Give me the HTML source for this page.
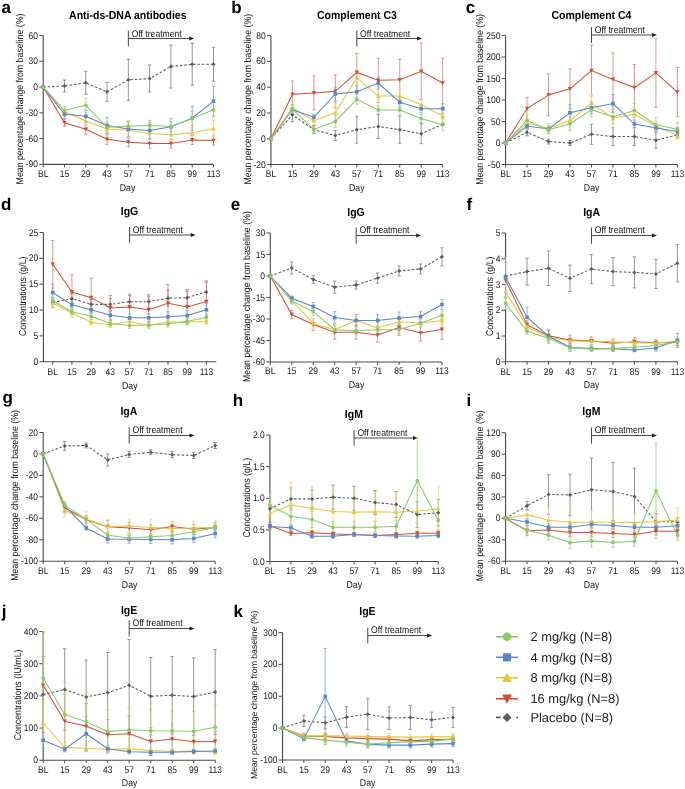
<!DOCTYPE html>
<html><head><meta charset="utf-8"><title>Figure</title>
<style>
html,body{margin:0;padding:0;background:#fff;}
svg{display:block;will-change:transform;}
text{font-family:"Liberation Sans", sans-serif;text-rendering:geometricPrecision;}
</style></head><body>
<svg width="685" height="789" viewBox="0 0 685 789">
<rect width="685" height="789" fill="#fff"/>
<text x="1.5" y="13.2" font-size="17" text-anchor="start" font-weight="bold" fill="#000">a</text>
<text transform="translate(127.8 19) scale(0.9091 1)" font-size="11.55" text-anchor="middle" font-weight="bold" fill="#000">Anti-ds-DNA antibodies</text>
<text font-size="9.94" text-anchor="middle" fill="#151515" transform="translate(22.8 99) rotate(-90) scale(0.8850 1)">Mean percentage change from baseline (%)</text>
<path d="M43.2 35.5V164.95 M42.65 164.4H213.5" stroke="#4a4a4a" stroke-width="1.1" fill="none"/>
<text transform="translate(38 38.55) scale(0.8850 1)" font-size="9.6" text-anchor="end" font-weight="normal" fill="#151515">60</text>
<text transform="translate(38 64.33) scale(0.8850 1)" font-size="9.6" text-anchor="end" font-weight="normal" fill="#151515">30</text>
<text transform="translate(38 90.11) scale(0.8850 1)" font-size="9.6" text-anchor="end" font-weight="normal" fill="#151515">0</text>
<text transform="translate(38 115.89) scale(0.8850 1)" font-size="9.6" text-anchor="end" font-weight="normal" fill="#151515">-30</text>
<text transform="translate(38 141.67) scale(0.8850 1)" font-size="9.6" text-anchor="end" font-weight="normal" fill="#151515">-60</text>
<text transform="translate(38 167.45) scale(0.8850 1)" font-size="9.6" text-anchor="end" font-weight="normal" fill="#151515">-90</text>
<text transform="translate(43.2 177.2) scale(0.8850 1)" font-size="9.6" text-anchor="middle" font-weight="normal" fill="#151515">BL</text>
<text transform="translate(64.49 177.2) scale(0.8850 1)" font-size="9.6" text-anchor="middle" font-weight="normal" fill="#151515">15</text>
<text transform="translate(85.78 177.2) scale(0.8850 1)" font-size="9.6" text-anchor="middle" font-weight="normal" fill="#151515">29</text>
<text transform="translate(107.06 177.2) scale(0.8850 1)" font-size="9.6" text-anchor="middle" font-weight="normal" fill="#151515">43</text>
<text transform="translate(128.35 177.2) scale(0.8850 1)" font-size="9.6" text-anchor="middle" font-weight="normal" fill="#151515">57</text>
<text transform="translate(149.64 177.2) scale(0.8850 1)" font-size="9.6" text-anchor="middle" font-weight="normal" fill="#151515">71</text>
<text transform="translate(170.93 177.2) scale(0.8850 1)" font-size="9.6" text-anchor="middle" font-weight="normal" fill="#151515">85</text>
<text transform="translate(192.21 177.2) scale(0.8850 1)" font-size="9.6" text-anchor="middle" font-weight="normal" fill="#151515">99</text>
<text transform="translate(213.5 177.2) scale(0.8850 1)" font-size="9.6" text-anchor="middle" font-weight="normal" fill="#151515">113</text>
<path d="M39.3 35.5H43.2M39.3 61.28H43.2M39.3 87.06H43.2M39.3 112.84H43.2M39.3 138.62H43.2M39.3 164.4H43.2M43.2 164.4V167.4M64.49 164.4V167.4M85.78 164.4V167.4M107.06 164.4V167.4M128.35 164.4V167.4M149.64 164.4V167.4M170.93 164.4V167.4M192.21 164.4V167.4M213.5 164.4V167.4" stroke="#4a4a4a" stroke-width="1" fill="none"/>
<text transform="translate(127.5 190.8) scale(0.8850 1)" font-size="9.83" text-anchor="middle" font-weight="normal" fill="#151515">Day</text>
<path d="M128.35 30.6V46.5 M128.35 38.5H190.2" stroke="#333" stroke-width="0.9" fill="none"/>
<path d="M194.2 38.5L189.2 36.5L189.2 40.5Z" fill="#222"/>
<text transform="translate(131.65 36.8) scale(0.8850 1)" font-size="9.72" text-anchor="start" font-weight="normal" fill="#151515">Off treatment</text>
<path d="M64.49 80.03V92.03M62.79 80.03H66.19M62.79 92.03H66.19M85.78 71.26V94.26M84.08 71.26H87.48M84.08 94.26H87.48M107.06 82.47V101.27M105.36 82.47H108.76M105.36 101.27H108.76M128.35 59.34V100.34M126.65 59.34H130.05M126.65 100.34H130.05M149.64 64.97V91.97M147.94 64.97H151.34M147.94 91.97H151.34M170.93 45.21V88.01M169.23 45.21H172.62M169.23 88.01H172.62M192.21 43.29V85.29M190.51 43.29H193.91M190.51 85.29H193.91M213.5 47.29V81.29M211.8 47.29H215.2M211.8 81.29H215.2" stroke="#8a8a8a" stroke-width="0.9" fill="none"/>
<path d="M64.49 119.31V126.31M62.79 119.31H66.19M62.79 126.31H66.19M85.78 124.25V134.25M84.08 124.25H87.48M84.08 134.25H87.48M107.06 134.31V144.31M105.36 134.31H108.76M105.36 144.31H108.76M128.35 137.73V146.73M126.65 137.73H130.05M126.65 146.73H130.05M149.64 139.02V148.02M147.94 139.02H151.34M147.94 148.02H151.34M170.93 139.02V148.02M169.23 139.02H172.62M169.23 148.02H172.62M192.21 135.49V144.49M190.51 135.49H193.91M190.51 144.49H193.91M213.5 136.01V145.01M211.8 136.01H215.2M211.8 145.01H215.2" stroke="#de8b7c" stroke-width="0.9" fill="none"/>
<path d="M64.49 106.55V116.55M62.79 106.55H66.19M62.79 116.55H66.19M85.78 115V127M84.08 115H87.48M84.08 127H87.48M107.06 123V135M105.36 123H108.76M105.36 135H108.76M128.35 122.28V138.28M126.65 122.28H130.05M126.65 138.28H130.05M149.64 127.46V139.46M147.94 127.46H151.34M147.94 139.46H151.34M170.93 128.75V140.75M169.23 128.75H172.62M169.23 140.75H172.62M192.21 126.78V138.78M190.51 126.78H193.91M190.51 138.78H193.91M213.5 120.57V136.57M211.8 120.57H215.2M211.8 136.57H215.2" stroke="#ecd878" stroke-width="0.9" fill="none"/>
<path d="M64.49 110.3V118.3M62.79 110.3H66.19M62.79 118.3H66.19M85.78 110.28V122.28M84.08 110.28H87.48M84.08 122.28H87.48M107.06 117.56V133.56M105.36 117.56H108.76M105.36 133.56H108.76M128.35 121V137M126.65 121H130.05M126.65 137H130.05M149.64 122.54V138.54M147.94 122.54H151.34M147.94 138.54H151.34M170.93 118.76V134.76M169.23 118.76H172.62M169.23 134.76H172.62M192.21 106.25V130.25M190.51 106.25H193.91M190.51 130.25H193.91M213.5 86.07V116.07M211.8 86.07H215.2M211.8 116.07H215.2" stroke="#8faad8" stroke-width="0.9" fill="none"/>
<path d="M64.49 106.52V114.52M62.79 106.52H66.19M62.79 114.52H66.19M85.78 98.28V112.28M84.08 98.28H87.48M84.08 112.28H87.48M107.06 122.28V132.28M105.36 122.28H108.76M105.36 132.28H108.76M128.35 121.25V131.25M126.65 121.25H130.05M126.65 131.25H130.05M149.64 120.3V130.3M147.94 120.3H151.34M147.94 130.3H151.34M170.93 121.5V131.5M169.23 121.5H172.62M169.23 131.5H172.62M192.21 111.51V125.51M190.51 111.51H193.91M190.51 125.51H193.91M213.5 102.83V116.83M211.8 102.83H215.2M211.8 116.83H215.2" stroke="#a9d68b" stroke-width="0.9" fill="none"/>
<polyline points="43.2,87.06 64.49,86.03 85.78,82.76 107.06,91.87 128.35,79.84 149.64,78.47 170.93,66.61 192.21,64.29 213.5,64.29" stroke="#5a5a5a" stroke-width="1.05" fill="none" stroke-dasharray="2.6 1.8"/>
<path d="M43.2 85.06L45.2 87.06L43.2 89.06L41.2 87.06Z" fill="#5a5a5a"/>
<path d="M64.49 84.03L66.49 86.03L64.49 88.03L62.49 86.03Z" fill="#5a5a5a"/>
<path d="M85.78 80.76L87.78 82.76L85.78 84.76L83.78 82.76Z" fill="#5a5a5a"/>
<path d="M107.06 89.87L109.06 91.87L107.06 93.87L105.06 91.87Z" fill="#5a5a5a"/>
<path d="M128.35 77.84L130.35 79.84L128.35 81.84L126.35 79.84Z" fill="#5a5a5a"/>
<path d="M149.64 76.47L151.64 78.47L149.64 80.47L147.64 78.47Z" fill="#5a5a5a"/>
<path d="M170.93 64.61L172.93 66.61L170.93 68.61L168.93 66.61Z" fill="#5a5a5a"/>
<path d="M192.21 62.29L194.21 64.29L192.21 66.29L190.21 64.29Z" fill="#5a5a5a"/>
<path d="M213.5 62.29L215.5 64.29L213.5 66.29L211.5 64.29Z" fill="#5a5a5a"/>
<polyline points="43.2,87.06 64.49,122.81 85.78,129.25 107.06,139.31 128.35,142.23 149.64,143.52 170.93,143.52 192.21,139.99 213.5,140.51" stroke="#cf4e38" stroke-width="1.05" fill="none"/>
<path d="M43.2 89.26L45.4 85.19L41 85.19Z" fill="#cf4e38"/>
<path d="M64.49 125.01L66.69 120.94L62.29 120.94Z" fill="#cf4e38"/>
<path d="M85.78 131.45L87.98 127.38L83.58 127.38Z" fill="#cf4e38"/>
<path d="M107.06 141.51L109.26 137.44L104.86 137.44Z" fill="#cf4e38"/>
<path d="M128.35 144.43L130.55 140.36L126.15 140.36Z" fill="#cf4e38"/>
<path d="M149.64 145.72L151.84 141.65L147.44 141.65Z" fill="#cf4e38"/>
<path d="M170.93 145.72L173.12 141.65L168.73 141.65Z" fill="#cf4e38"/>
<path d="M192.21 142.19L194.41 138.12L190.01 138.12Z" fill="#cf4e38"/>
<path d="M213.5 142.71L215.7 138.64L211.3 138.64Z" fill="#cf4e38"/>
<polyline points="43.2,87.06 64.49,111.55 85.78,121 107.06,129 128.35,130.28 149.64,133.46 170.93,134.75 192.21,132.78 213.5,128.57" stroke="#e2c83a" stroke-width="1.05" fill="none"/>
<path d="M43.2 84.86L45.4 88.93L41 88.93Z" fill="#e2c83a"/>
<path d="M64.49 109.35L66.69 113.42L62.29 113.42Z" fill="#e2c83a"/>
<path d="M85.78 118.8L87.98 122.87L83.58 122.87Z" fill="#e2c83a"/>
<path d="M107.06 126.8L109.26 130.87L104.86 130.87Z" fill="#e2c83a"/>
<path d="M128.35 128.08L130.55 132.15L126.15 132.15Z" fill="#e2c83a"/>
<path d="M149.64 131.26L151.84 135.33L147.44 135.33Z" fill="#e2c83a"/>
<path d="M170.93 132.55L173.12 136.62L168.73 136.62Z" fill="#e2c83a"/>
<path d="M192.21 130.58L194.41 134.65L190.01 134.65Z" fill="#e2c83a"/>
<path d="M213.5 126.37L215.7 130.44L211.3 130.44Z" fill="#e2c83a"/>
<polyline points="43.2,87.06 64.49,114.3 85.78,116.28 107.06,125.56 128.35,129 149.64,130.54 170.93,126.76 192.21,118.25 213.5,101.07" stroke="#5a86c8" stroke-width="1.05" fill="none"/>
<rect x="41.4" y="85.26" width="3.6" height="3.6" fill="#5a86c8"/>
<rect x="62.69" y="112.5" width="3.6" height="3.6" fill="#5a86c8"/>
<rect x="83.98" y="114.48" width="3.6" height="3.6" fill="#5a86c8"/>
<rect x="105.26" y="123.76" width="3.6" height="3.6" fill="#5a86c8"/>
<rect x="126.55" y="127.2" width="3.6" height="3.6" fill="#5a86c8"/>
<rect x="147.84" y="128.74" width="3.6" height="3.6" fill="#5a86c8"/>
<rect x="169.12" y="124.96" width="3.6" height="3.6" fill="#5a86c8"/>
<rect x="190.41" y="116.45" width="3.6" height="3.6" fill="#5a86c8"/>
<rect x="211.7" y="99.27" width="3.6" height="3.6" fill="#5a86c8"/>
<polyline points="43.2,87.06 64.49,110.52 85.78,105.28 107.06,127.28 128.35,126.25 149.64,125.3 170.93,126.5 192.21,118.51 213.5,109.83" stroke="#8cc865" stroke-width="1.05" fill="none"/>
<circle cx="43.2" cy="87.06" r="1.9" fill="#8cc865"/>
<circle cx="64.49" cy="110.52" r="1.9" fill="#8cc865"/>
<circle cx="85.78" cy="105.28" r="1.9" fill="#8cc865"/>
<circle cx="107.06" cy="127.28" r="1.9" fill="#8cc865"/>
<circle cx="128.35" cy="126.25" r="1.9" fill="#8cc865"/>
<circle cx="149.64" cy="125.3" r="1.9" fill="#8cc865"/>
<circle cx="170.93" cy="126.5" r="1.9" fill="#8cc865"/>
<circle cx="192.21" cy="118.51" r="1.9" fill="#8cc865"/>
<circle cx="213.5" cy="109.83" r="1.9" fill="#8cc865"/>
<text x="231.2" y="13.2" font-size="17" text-anchor="start" font-weight="bold" fill="#000">b</text>
<text transform="translate(357 18.6) scale(0.9091 1)" font-size="11.55" text-anchor="middle" font-weight="bold" fill="#000">Complement C3</text>
<text font-size="9.94" text-anchor="middle" fill="#151515" transform="translate(251.2 99.2) rotate(-90) scale(0.8850 1)">Mean percentage change from baseline (%)</text>
<path d="M270.95 35.6V165.05 M270.4 164.5H442.7" stroke="#4a4a4a" stroke-width="1.1" fill="none"/>
<text transform="translate(265.75 38.65) scale(0.8850 1)" font-size="9.6" text-anchor="end" font-weight="normal" fill="#151515">80</text>
<text transform="translate(265.75 64.43) scale(0.8850 1)" font-size="9.6" text-anchor="end" font-weight="normal" fill="#151515">60</text>
<text transform="translate(265.75 90.21) scale(0.8850 1)" font-size="9.6" text-anchor="end" font-weight="normal" fill="#151515">40</text>
<text transform="translate(265.75 115.99) scale(0.8850 1)" font-size="9.6" text-anchor="end" font-weight="normal" fill="#151515">20</text>
<text transform="translate(265.75 141.77) scale(0.8850 1)" font-size="9.6" text-anchor="end" font-weight="normal" fill="#151515">0</text>
<text transform="translate(265.75 167.55) scale(0.8850 1)" font-size="9.6" text-anchor="end" font-weight="normal" fill="#151515">-20</text>
<text transform="translate(270.95 177.2) scale(0.8850 1)" font-size="9.6" text-anchor="middle" font-weight="normal" fill="#151515">BL</text>
<text transform="translate(292.42 177.2) scale(0.8850 1)" font-size="9.6" text-anchor="middle" font-weight="normal" fill="#151515">15</text>
<text transform="translate(313.89 177.2) scale(0.8850 1)" font-size="9.6" text-anchor="middle" font-weight="normal" fill="#151515">29</text>
<text transform="translate(335.36 177.2) scale(0.8850 1)" font-size="9.6" text-anchor="middle" font-weight="normal" fill="#151515">43</text>
<text transform="translate(356.82 177.2) scale(0.8850 1)" font-size="9.6" text-anchor="middle" font-weight="normal" fill="#151515">57</text>
<text transform="translate(378.29 177.2) scale(0.8850 1)" font-size="9.6" text-anchor="middle" font-weight="normal" fill="#151515">71</text>
<text transform="translate(399.76 177.2) scale(0.8850 1)" font-size="9.6" text-anchor="middle" font-weight="normal" fill="#151515">85</text>
<text transform="translate(421.23 177.2) scale(0.8850 1)" font-size="9.6" text-anchor="middle" font-weight="normal" fill="#151515">99</text>
<text transform="translate(442.7 177.2) scale(0.8850 1)" font-size="9.6" text-anchor="middle" font-weight="normal" fill="#151515">113</text>
<path d="M267.05 35.6H270.95M267.05 61.38H270.95M267.05 87.16H270.95M267.05 112.94H270.95M267.05 138.72H270.95M267.05 164.5H270.95M270.95 164.5V167.5M292.42 164.5V167.5M313.89 164.5V167.5M335.36 164.5V167.5M356.82 164.5V167.5M378.29 164.5V167.5M399.76 164.5V167.5M421.23 164.5V167.5M442.7 164.5V167.5" stroke="#4a4a4a" stroke-width="1" fill="none"/>
<text transform="translate(356.75 190.8) scale(0.8850 1)" font-size="9.83" text-anchor="middle" font-weight="normal" fill="#151515">Day</text>
<path d="M356.82 30.6V46.5 M356.82 38.5H418" stroke="#333" stroke-width="0.9" fill="none"/>
<path d="M422 38.5L417 36.5L417 40.5Z" fill="#222"/>
<text transform="translate(360.12 36.8) scale(0.8850 1)" font-size="9.72" text-anchor="start" font-weight="normal" fill="#151515">Off treatment</text>
<path d="M292.42 107.74V121.74M290.72 107.74H294.12M290.72 121.74H294.12M313.89 125.7V133.7M312.19 125.7H315.59M312.19 133.7H315.59M335.36 130.5V140.5M333.66 130.5H337.06M333.66 140.5H337.06M356.82 116.2V143.2M355.12 116.2H358.52M355.12 143.2H358.52M378.29 114.47V138.47M376.59 114.47H379.99M376.59 138.47H379.99M399.76 116.2V143.2M398.06 116.2H401.46M398.06 143.2H401.46M421.23 123.69V143.69M419.53 123.69H422.93M419.53 143.69H422.93" stroke="#8a8a8a" stroke-width="0.9" fill="none"/>
<path d="M292.42 81V107.5M290.72 81H294.12M290.72 107.5H294.12M313.89 75.96V109.96M312.19 75.96H315.59M312.19 109.96H315.59M335.36 74.78V107.78M333.66 74.78H337.06M333.66 107.78H337.06M356.82 53.47V91.47M355.12 53.47H358.52M355.12 91.47H358.52M378.29 58.33V102.33M376.59 58.33H379.99M376.59 102.33H379.99M399.76 59.31V100.31M398.06 59.31H401.46M398.06 100.31H401.46M421.23 43.06V99.56M419.53 43.06H422.93M419.53 99.56H422.93M442.7 58.29V107.79M441 58.29H444.4M441 107.79H444.4" stroke="#de8b7c" stroke-width="0.9" fill="none"/>
<path d="M292.42 103.04V113.04M290.72 103.04H294.12M290.72 113.04H294.12M313.89 116.67V124.67M312.19 116.67H315.59M312.19 124.67H315.59M335.36 103.68V121.68M333.66 103.68H337.06M333.66 121.68H337.06M356.82 70.75V84.75M355.12 70.75H358.52M355.12 84.75H358.52M378.29 86.05V106.05M376.59 86.05H379.99M376.59 106.05H379.99M399.76 89.05V103.05M398.06 89.05H401.46M398.06 103.05H401.46M421.23 98.69V110.69M419.53 98.69H422.93M419.53 110.69H422.93M442.7 110.03V122.03M441 110.03H444.4M441 122.03H444.4" stroke="#ecd878" stroke-width="0.9" fill="none"/>
<path d="M292.42 104.72V114.72M290.72 104.72H294.12M290.72 114.72H294.12M313.89 114.19V120.19M312.19 114.19H315.59M312.19 120.19H315.59M335.36 86.99V100.99M333.66 86.99H337.06M333.66 100.99H337.06M356.82 85.8V97.8M355.12 85.8H358.52M355.12 97.8H358.52M378.29 77.04V89.04M376.59 77.04H379.99M376.59 89.04H379.99M399.76 97.24V107.24M398.06 97.24H401.46M398.06 107.24H401.46M421.23 104.69V112.69M419.53 104.69H422.93M419.53 112.69H422.93M442.7 103.69V113.69M441 103.69H444.4M441 113.69H444.4" stroke="#8faad8" stroke-width="0.9" fill="none"/>
<path d="M292.42 105.2V113.2M290.72 105.2H294.12M290.72 113.2H294.12M313.89 126.44V132.44M312.19 126.44H315.59M312.19 132.44H315.59M335.36 115.45V127.45M333.66 115.45H337.06M333.66 127.45H337.06M356.82 94.28V104.28M355.12 94.28H358.52M355.12 104.28H358.52M378.29 105.98V113.98M376.59 105.98H379.99M376.59 113.98H379.99M399.76 104.98V114.98M398.06 104.98H401.46M398.06 114.98H401.46M421.23 114.48V122.48M419.53 114.48H422.93M419.53 122.48H422.93M442.7 118.67V130.67M441 118.67H444.4M441 130.67H444.4" stroke="#a9d68b" stroke-width="0.9" fill="none"/>
<polyline points="270.95,138.72 292.42,114.74 313.89,129.7 335.36,135.5 356.82,129.7 378.29,126.47 399.76,129.7 421.23,133.69 442.7,124.28" stroke="#5a5a5a" stroke-width="1.05" fill="none" stroke-dasharray="2.6 1.8"/>
<path d="M270.95 136.72L272.95 138.72L270.95 140.72L268.95 138.72Z" fill="#5a5a5a"/>
<path d="M292.42 112.74L294.42 114.74L292.42 116.74L290.42 114.74Z" fill="#5a5a5a"/>
<path d="M313.89 127.7L315.89 129.7L313.89 131.7L311.89 129.7Z" fill="#5a5a5a"/>
<path d="M335.36 133.5L337.36 135.5L335.36 137.5L333.36 135.5Z" fill="#5a5a5a"/>
<path d="M356.82 127.7L358.82 129.7L356.82 131.7L354.82 129.7Z" fill="#5a5a5a"/>
<path d="M378.29 124.47L380.29 126.47L378.29 128.47L376.29 126.47Z" fill="#5a5a5a"/>
<path d="M399.76 127.7L401.76 129.7L399.76 131.7L397.76 129.7Z" fill="#5a5a5a"/>
<path d="M421.23 131.69L423.23 133.69L421.23 135.69L419.23 133.69Z" fill="#5a5a5a"/>
<path d="M442.7 122.28L444.7 124.28L442.7 126.28L440.7 124.28Z" fill="#5a5a5a"/>
<polyline points="270.95,138.72 292.42,94.25 313.89,92.96 335.36,91.28 356.82,72.47 378.29,80.33 399.76,79.81 421.23,71.31 442.7,83.04" stroke="#cf4e38" stroke-width="1.05" fill="none"/>
<path d="M270.95 140.92L273.15 136.85L268.75 136.85Z" fill="#cf4e38"/>
<path d="M292.42 96.45L294.62 92.38L290.22 92.38Z" fill="#cf4e38"/>
<path d="M313.89 95.16L316.09 91.09L311.69 91.09Z" fill="#cf4e38"/>
<path d="M335.36 93.48L337.56 89.41L333.16 89.41Z" fill="#cf4e38"/>
<path d="M356.82 74.67L359.02 70.6L354.62 70.6Z" fill="#cf4e38"/>
<path d="M378.29 82.53L380.49 78.46L376.09 78.46Z" fill="#cf4e38"/>
<path d="M399.76 82.01L401.96 77.94L397.56 77.94Z" fill="#cf4e38"/>
<path d="M421.23 73.51L423.43 69.44L419.03 69.44Z" fill="#cf4e38"/>
<path d="M442.7 85.24L444.9 81.17L440.5 81.17Z" fill="#cf4e38"/>
<polyline points="270.95,138.72 292.42,108.04 313.89,120.67 335.36,112.68 356.82,77.75 378.29,96.05 399.76,96.05 421.23,104.69 442.7,116.03" stroke="#e2c83a" stroke-width="1.05" fill="none"/>
<path d="M270.95 136.52L273.15 140.59L268.75 140.59Z" fill="#e2c83a"/>
<path d="M292.42 105.84L294.62 109.91L290.22 109.91Z" fill="#e2c83a"/>
<path d="M313.89 118.47L316.09 122.54L311.69 122.54Z" fill="#e2c83a"/>
<path d="M335.36 110.48L337.56 114.55L333.16 114.55Z" fill="#e2c83a"/>
<path d="M356.82 75.55L359.02 79.62L354.62 79.62Z" fill="#e2c83a"/>
<path d="M378.29 93.85L380.49 97.92L376.09 97.92Z" fill="#e2c83a"/>
<path d="M399.76 93.85L401.96 97.92L397.56 97.92Z" fill="#e2c83a"/>
<path d="M421.23 102.49L423.43 106.56L419.03 106.56Z" fill="#e2c83a"/>
<path d="M442.7 113.83L444.9 117.9L440.5 117.9Z" fill="#e2c83a"/>
<polyline points="270.95,138.72 292.42,109.72 313.89,117.19 335.36,93.99 356.82,91.8 378.29,83.04 399.76,102.24 421.23,108.69 442.7,108.69" stroke="#5a86c8" stroke-width="1.05" fill="none"/>
<rect x="269.15" y="136.92" width="3.6" height="3.6" fill="#5a86c8"/>
<rect x="290.62" y="107.92" width="3.6" height="3.6" fill="#5a86c8"/>
<rect x="312.09" y="115.39" width="3.6" height="3.6" fill="#5a86c8"/>
<rect x="333.56" y="92.19" width="3.6" height="3.6" fill="#5a86c8"/>
<rect x="355.02" y="90" width="3.6" height="3.6" fill="#5a86c8"/>
<rect x="376.49" y="81.24" width="3.6" height="3.6" fill="#5a86c8"/>
<rect x="397.96" y="100.44" width="3.6" height="3.6" fill="#5a86c8"/>
<rect x="419.43" y="106.89" width="3.6" height="3.6" fill="#5a86c8"/>
<rect x="440.9" y="106.89" width="3.6" height="3.6" fill="#5a86c8"/>
<polyline points="270.95,138.72 292.42,109.2 313.89,129.44 335.36,121.45 356.82,99.28 378.29,109.98 399.76,109.98 421.23,118.48 442.7,124.67" stroke="#8cc865" stroke-width="1.05" fill="none"/>
<circle cx="270.95" cy="138.72" r="1.9" fill="#8cc865"/>
<circle cx="292.42" cy="109.2" r="1.9" fill="#8cc865"/>
<circle cx="313.89" cy="129.44" r="1.9" fill="#8cc865"/>
<circle cx="335.36" cy="121.45" r="1.9" fill="#8cc865"/>
<circle cx="356.82" cy="99.28" r="1.9" fill="#8cc865"/>
<circle cx="378.29" cy="109.98" r="1.9" fill="#8cc865"/>
<circle cx="399.76" cy="109.98" r="1.9" fill="#8cc865"/>
<circle cx="421.23" cy="118.48" r="1.9" fill="#8cc865"/>
<circle cx="442.7" cy="124.67" r="1.9" fill="#8cc865"/>
<text x="465.8" y="12.7" font-size="17" text-anchor="start" font-weight="bold" fill="#000">c</text>
<text transform="translate(591.5 18.7) scale(0.9091 1)" font-size="11.55" text-anchor="middle" font-weight="bold" fill="#000">Complement C4</text>
<text font-size="9.94" text-anchor="middle" fill="#151515" transform="translate(483.2 99.45) rotate(-90) scale(0.8850 1)">Mean percentage change from baseline (%)</text>
<path d="M505.56 35.6V165.05 M505.01 164.5H677.4" stroke="#4a4a4a" stroke-width="1.1" fill="none"/>
<text transform="translate(500.36 38.65) scale(0.8850 1)" font-size="9.6" text-anchor="end" font-weight="normal" fill="#151515">250</text>
<text transform="translate(500.36 60.13) scale(0.8850 1)" font-size="9.6" text-anchor="end" font-weight="normal" fill="#151515">200</text>
<text transform="translate(500.36 81.62) scale(0.8850 1)" font-size="9.6" text-anchor="end" font-weight="normal" fill="#151515">150</text>
<text transform="translate(500.36 103.1) scale(0.8850 1)" font-size="9.6" text-anchor="end" font-weight="normal" fill="#151515">100</text>
<text transform="translate(500.36 124.58) scale(0.8850 1)" font-size="9.6" text-anchor="end" font-weight="normal" fill="#151515">50</text>
<text transform="translate(500.36 146.07) scale(0.8850 1)" font-size="9.6" text-anchor="end" font-weight="normal" fill="#151515">0</text>
<text transform="translate(500.36 167.55) scale(0.8850 1)" font-size="9.6" text-anchor="end" font-weight="normal" fill="#151515">-50</text>
<text transform="translate(505.56 177.2) scale(0.8850 1)" font-size="9.6" text-anchor="middle" font-weight="normal" fill="#151515">BL</text>
<text transform="translate(527.04 177.2) scale(0.8850 1)" font-size="9.6" text-anchor="middle" font-weight="normal" fill="#151515">15</text>
<text transform="translate(548.52 177.2) scale(0.8850 1)" font-size="9.6" text-anchor="middle" font-weight="normal" fill="#151515">29</text>
<text transform="translate(570 177.2) scale(0.8850 1)" font-size="9.6" text-anchor="middle" font-weight="normal" fill="#151515">43</text>
<text transform="translate(591.48 177.2) scale(0.8850 1)" font-size="9.6" text-anchor="middle" font-weight="normal" fill="#151515">57</text>
<text transform="translate(612.96 177.2) scale(0.8850 1)" font-size="9.6" text-anchor="middle" font-weight="normal" fill="#151515">71</text>
<text transform="translate(634.44 177.2) scale(0.8850 1)" font-size="9.6" text-anchor="middle" font-weight="normal" fill="#151515">85</text>
<text transform="translate(655.92 177.2) scale(0.8850 1)" font-size="9.6" text-anchor="middle" font-weight="normal" fill="#151515">99</text>
<text transform="translate(677.4 177.2) scale(0.8850 1)" font-size="9.6" text-anchor="middle" font-weight="normal" fill="#151515">113</text>
<path d="M501.66 35.6H505.56M501.66 57.08H505.56M501.66 78.57H505.56M501.66 100.05H505.56M501.66 121.53H505.56M501.66 143.02H505.56M501.66 164.5H505.56M505.56 164.5V167.5M527.04 164.5V167.5M548.52 164.5V167.5M570 164.5V167.5M591.48 164.5V167.5M612.96 164.5V167.5M634.44 164.5V167.5M655.92 164.5V167.5M677.4 164.5V167.5" stroke="#4a4a4a" stroke-width="1" fill="none"/>
<text transform="translate(591.6 190.8) scale(0.8850 1)" font-size="9.83" text-anchor="middle" font-weight="normal" fill="#151515">Day</text>
<path d="M591.48 27V43 M591.48 35H653" stroke="#333" stroke-width="0.9" fill="none"/>
<path d="M657 35L652 33L652 37Z" fill="#222"/>
<text transform="translate(594.78 33) scale(0.8850 1)" font-size="9.72" text-anchor="start" font-weight="normal" fill="#151515">Off treatment</text>
<path d="M527.04 128.78V135.78M525.34 128.78H528.74M525.34 135.78H528.74M548.52 139.01V144.01M546.82 139.01H550.22M546.82 144.01H550.22M570 140.52V145.52M568.3 140.52H571.7M568.3 145.52H571.7M591.48 124.29V144.29M589.78 124.29H593.18M589.78 144.29H593.18M612.96 127.53V145.53M611.26 127.53H614.66M611.26 145.53H614.66M634.44 127.53V145.53M632.74 127.53H636.14M632.74 145.53H636.14M655.92 132.27V148.27M654.22 132.27H657.62M654.22 148.27H657.62M677.4 131.77V137.77M675.7 131.77H679.1M675.7 137.77H679.1" stroke="#8a8a8a" stroke-width="0.9" fill="none"/>
<path d="M527.04 97.31V119.81M525.34 97.31H528.74M525.34 119.81H528.74M548.52 73.89V115.89M546.82 73.89H550.22M546.82 115.89H550.22M570 68.88V108.88M568.3 68.88H571.7M568.3 108.88H571.7M591.48 45.07V96.07M589.78 45.07H593.18M589.78 96.07H593.18M612.96 52.93V105.93M611.26 52.93H614.66M611.26 105.93H614.66M634.44 64.59V110.59M632.74 64.59H636.14M632.74 110.59H636.14M655.92 38.21V107.41M654.22 38.21H657.62M654.22 107.41H657.62M677.4 67.46V116.66M675.7 67.46H679.1M675.7 116.66H679.1" stroke="#de8b7c" stroke-width="0.9" fill="none"/>
<path d="M527.04 117.04V129.04M525.34 117.04H528.74M525.34 129.04H528.74M548.52 123.54V133.54M546.82 123.54H550.22M546.82 133.54H550.22M570 111.55V129.55M568.3 111.55H571.7M568.3 129.55H571.7M591.48 94.06V112.06M589.78 94.06H593.18M589.78 112.06H593.18M612.96 109.27V127.27M611.26 109.27H614.66M611.26 127.27H614.66M634.44 107.27V121.27M632.74 107.27H636.14M632.74 121.27H636.14M655.92 121.04V131.04M654.22 121.04H657.62M654.22 131.04H657.62M677.4 131.54V139.54M675.7 131.54H679.1M675.7 139.54H679.1" stroke="#ecd878" stroke-width="0.9" fill="none"/>
<path d="M527.04 123.04V129.04M525.34 123.04H528.74M525.34 129.04H528.74M548.52 126.01V132.01M546.82 126.01H550.22M546.82 132.01H550.22M570 104.77V120.77M568.3 104.77H571.7M568.3 120.77H571.7M591.48 101.78V113.78M589.78 101.78H593.18M589.78 113.78H593.18M612.96 94.53V112.53M611.26 94.53H614.66M611.26 112.53H614.66M634.44 120.03V128.03M632.74 120.03H636.14M632.74 128.03H636.14M655.92 125.02V131.02M654.22 125.02H657.62M654.22 131.02H657.62M677.4 127.54V135.54M675.7 127.54H679.1M675.7 135.54H679.1" stroke="#8faad8" stroke-width="0.9" fill="none"/>
<path d="M527.04 114.29V126.29M525.34 114.29H528.74M525.34 126.29H528.74M548.52 125.78V133.78M546.82 125.78H550.22M546.82 133.78H550.22M570 116.77V130.77M568.3 116.77H571.7M568.3 130.77H571.7M591.48 102.8V116.8M589.78 102.8H593.18M589.78 116.8H593.18M612.96 109.81V123.81M611.26 109.81H614.66M611.26 123.81H614.66M634.44 103.53V117.53M632.74 103.53H636.14M632.74 117.53H636.14M655.92 117.8V131.8M654.22 117.8H657.62M654.22 131.8H657.62M677.4 122.27V136.27M675.7 122.27H679.1M675.7 136.27H679.1" stroke="#a9d68b" stroke-width="0.9" fill="none"/>
<polyline points="505.56,143.02 527.04,132.28 548.52,141.51 570,143.02 591.48,134.29 612.96,136.53 634.44,136.53 655.92,140.27 677.4,134.77" stroke="#5a5a5a" stroke-width="1.05" fill="none" stroke-dasharray="2.6 1.8"/>
<path d="M505.56 141.02L507.56 143.02L505.56 145.02L503.56 143.02Z" fill="#5a5a5a"/>
<path d="M527.04 130.28L529.04 132.28L527.04 134.28L525.04 132.28Z" fill="#5a5a5a"/>
<path d="M548.52 139.51L550.52 141.51L548.52 143.51L546.52 141.51Z" fill="#5a5a5a"/>
<path d="M570 141.02L572 143.02L570 145.02L568 143.02Z" fill="#5a5a5a"/>
<path d="M591.48 132.29L593.48 134.29L591.48 136.29L589.48 134.29Z" fill="#5a5a5a"/>
<path d="M612.96 134.53L614.96 136.53L612.96 138.53L610.96 136.53Z" fill="#5a5a5a"/>
<path d="M634.44 134.53L636.44 136.53L634.44 138.53L632.44 136.53Z" fill="#5a5a5a"/>
<path d="M655.92 138.27L657.92 140.27L655.92 142.27L653.92 140.27Z" fill="#5a5a5a"/>
<path d="M677.4 132.77L679.4 134.77L677.4 136.77L675.4 134.77Z" fill="#5a5a5a"/>
<polyline points="505.56,143.02 527.04,108.56 548.52,94.89 570,88.88 591.48,70.57 612.96,79.43 634.44,87.59 655.92,72.81 677.4,92.06" stroke="#cf4e38" stroke-width="1.05" fill="none"/>
<path d="M505.56 145.22L507.76 141.15L503.36 141.15Z" fill="#cf4e38"/>
<path d="M527.04 110.76L529.24 106.69L524.84 106.69Z" fill="#cf4e38"/>
<path d="M548.52 97.09L550.72 93.02L546.32 93.02Z" fill="#cf4e38"/>
<path d="M570 91.08L572.2 87.01L567.8 87.01Z" fill="#cf4e38"/>
<path d="M591.48 72.77L593.68 68.7L589.28 68.7Z" fill="#cf4e38"/>
<path d="M612.96 81.63L615.16 77.56L610.76 77.56Z" fill="#cf4e38"/>
<path d="M634.44 89.79L636.64 85.72L632.24 85.72Z" fill="#cf4e38"/>
<path d="M655.92 75.01L658.12 70.94L653.72 70.94Z" fill="#cf4e38"/>
<path d="M677.4 94.26L679.6 90.19L675.2 90.19Z" fill="#cf4e38"/>
<polyline points="505.56,143.02 527.04,123.04 548.52,128.54 570,120.55 591.48,103.06 612.96,118.27 634.44,114.27 655.92,126.04 677.4,135.54" stroke="#e2c83a" stroke-width="1.05" fill="none"/>
<path d="M505.56 140.82L507.76 144.89L503.36 144.89Z" fill="#e2c83a"/>
<path d="M527.04 120.84L529.24 124.91L524.84 124.91Z" fill="#e2c83a"/>
<path d="M548.52 126.34L550.72 130.41L546.32 130.41Z" fill="#e2c83a"/>
<path d="M570 118.35L572.2 122.42L567.8 122.42Z" fill="#e2c83a"/>
<path d="M591.48 100.86L593.68 104.93L589.28 104.93Z" fill="#e2c83a"/>
<path d="M612.96 116.07L615.16 120.14L610.76 120.14Z" fill="#e2c83a"/>
<path d="M634.44 112.07L636.64 116.14L632.24 116.14Z" fill="#e2c83a"/>
<path d="M655.92 123.84L658.12 127.91L653.72 127.91Z" fill="#e2c83a"/>
<path d="M677.4 133.34L679.6 137.41L675.2 137.41Z" fill="#e2c83a"/>
<polyline points="505.56,143.02 527.04,126.04 548.52,129.01 570,112.77 591.48,107.78 612.96,103.53 634.44,124.03 655.92,128.02 677.4,131.54" stroke="#5a86c8" stroke-width="1.05" fill="none"/>
<rect x="503.76" y="141.22" width="3.6" height="3.6" fill="#5a86c8"/>
<rect x="525.24" y="124.24" width="3.6" height="3.6" fill="#5a86c8"/>
<rect x="546.72" y="127.21" width="3.6" height="3.6" fill="#5a86c8"/>
<rect x="568.2" y="110.97" width="3.6" height="3.6" fill="#5a86c8"/>
<rect x="589.68" y="105.98" width="3.6" height="3.6" fill="#5a86c8"/>
<rect x="611.16" y="101.73" width="3.6" height="3.6" fill="#5a86c8"/>
<rect x="632.64" y="122.23" width="3.6" height="3.6" fill="#5a86c8"/>
<rect x="654.12" y="126.22" width="3.6" height="3.6" fill="#5a86c8"/>
<rect x="675.6" y="129.74" width="3.6" height="3.6" fill="#5a86c8"/>
<polyline points="505.56,143.02 527.04,120.29 548.52,129.78 570,123.77 591.48,109.8 612.96,116.81 634.44,110.53 655.92,124.8 677.4,129.27" stroke="#8cc865" stroke-width="1.05" fill="none"/>
<circle cx="505.56" cy="143.02" r="1.9" fill="#8cc865"/>
<circle cx="527.04" cy="120.29" r="1.9" fill="#8cc865"/>
<circle cx="548.52" cy="129.78" r="1.9" fill="#8cc865"/>
<circle cx="570" cy="123.77" r="1.9" fill="#8cc865"/>
<circle cx="591.48" cy="109.8" r="1.9" fill="#8cc865"/>
<circle cx="612.96" cy="116.81" r="1.9" fill="#8cc865"/>
<circle cx="634.44" cy="110.53" r="1.9" fill="#8cc865"/>
<circle cx="655.92" cy="124.8" r="1.9" fill="#8cc865"/>
<circle cx="677.4" cy="129.27" r="1.9" fill="#8cc865"/>
<text x="1" y="210" font-size="17" text-anchor="start" font-weight="bold" fill="#000">d</text>
<text transform="translate(129.5 214.9) scale(0.9091 1)" font-size="11.55" text-anchor="middle" font-weight="bold" fill="#000">IgG</text>
<text font-size="9.94" text-anchor="middle" fill="#151515" transform="translate(25.7 296.3) rotate(-90) scale(0.8850 1)">Concentrations (g/L)</text>
<path d="M43.4 232.5V362.3 M42.85 361.75H216.3" stroke="#4a4a4a" stroke-width="1.1" fill="none"/>
<text transform="translate(38.2 235.55) scale(0.8850 1)" font-size="9.6" text-anchor="end" font-weight="normal" fill="#151515">25</text>
<text transform="translate(38.2 261.4) scale(0.8850 1)" font-size="9.6" text-anchor="end" font-weight="normal" fill="#151515">20</text>
<text transform="translate(38.2 287.25) scale(0.8850 1)" font-size="9.6" text-anchor="end" font-weight="normal" fill="#151515">15</text>
<text transform="translate(38.2 313.1) scale(0.8850 1)" font-size="9.6" text-anchor="end" font-weight="normal" fill="#151515">10</text>
<text transform="translate(38.2 338.95) scale(0.8850 1)" font-size="9.6" text-anchor="end" font-weight="normal" fill="#151515">5</text>
<text transform="translate(38.2 364.8) scale(0.8850 1)" font-size="9.6" text-anchor="end" font-weight="normal" fill="#151515">0</text>
<text transform="translate(52.7 375.2) scale(0.8850 1)" font-size="9.6" text-anchor="middle" font-weight="normal" fill="#151515">BL</text>
<text transform="translate(71.91 375.2) scale(0.8850 1)" font-size="9.6" text-anchor="middle" font-weight="normal" fill="#151515">15</text>
<text transform="translate(91.12 375.2) scale(0.8850 1)" font-size="9.6" text-anchor="middle" font-weight="normal" fill="#151515">29</text>
<text transform="translate(110.34 375.2) scale(0.8850 1)" font-size="9.6" text-anchor="middle" font-weight="normal" fill="#151515">43</text>
<text transform="translate(129.55 375.2) scale(0.8850 1)" font-size="9.6" text-anchor="middle" font-weight="normal" fill="#151515">57</text>
<text transform="translate(148.76 375.2) scale(0.8850 1)" font-size="9.6" text-anchor="middle" font-weight="normal" fill="#151515">71</text>
<text transform="translate(167.97 375.2) scale(0.8850 1)" font-size="9.6" text-anchor="middle" font-weight="normal" fill="#151515">85</text>
<text transform="translate(187.19 375.2) scale(0.8850 1)" font-size="9.6" text-anchor="middle" font-weight="normal" fill="#151515">99</text>
<text transform="translate(206.4 375.2) scale(0.8850 1)" font-size="9.6" text-anchor="middle" font-weight="normal" fill="#151515">113</text>
<path d="M39.5 232.5H43.4M39.5 258.35H43.4M39.5 284.2H43.4M39.5 310.05H43.4M39.5 335.9H43.4M39.5 361.75H43.4M52.7 361.75V364.75M71.91 361.75V364.75M91.12 361.75V364.75M110.34 361.75V364.75M129.55 361.75V364.75M148.76 361.75V364.75M167.97 361.75V364.75M187.19 361.75V364.75M206.4 361.75V364.75" stroke="#4a4a4a" stroke-width="1" fill="none"/>
<text transform="translate(129.75 388.6) scale(0.8850 1)" font-size="9.83" text-anchor="middle" font-weight="normal" fill="#151515">Day</text>
<path d="M129.55 227V243.25 M129.55 235H191.75" stroke="#333" stroke-width="0.9" fill="none"/>
<path d="M195.75 235L190.75 233L190.75 237Z" fill="#222"/>
<text transform="translate(132.85 233) scale(0.8850 1)" font-size="9.72" text-anchor="start" font-weight="normal" fill="#151515">Off treatment</text>
<path d="M52.7 297.5V307.5M51 297.5H54.4M51 307.5H54.4M71.91 293.68V303.68M70.21 293.68H73.61M70.21 303.68H73.61M91.12 299.36V309.36M89.42 299.36H92.83M89.42 309.36H92.83M110.34 298.36V310.36M108.64 298.36H112.04M108.64 310.36H112.04M129.55 295.78V307.78M127.85 295.78H131.25M127.85 307.78H131.25M148.76 294.78V308.78M147.06 294.78H150.46M147.06 308.78H150.46M167.97 290.16V306.16M166.28 290.16H169.67M166.28 306.16H169.67M187.19 289.64V305.64M185.49 289.64H188.89M185.49 305.64H188.89M206.4 281.95V301.95M204.7 281.95H208.1M204.7 301.95H208.1" stroke="#8a8a8a" stroke-width="0.9" fill="none"/>
<path d="M52.7 240.49V287.99M51 240.49H54.4M51 287.99H54.4M71.91 274.7V309.2M70.21 274.7H73.61M70.21 309.2H73.61M91.12 278.14V317.14M89.42 278.14H92.83M89.42 317.14H92.83M110.34 295.48V320.48M108.64 295.48H112.04M108.64 320.48H112.04M129.55 294.45V319.45M127.85 294.45H131.25M127.85 319.45H131.25M148.76 296.74V322.74M147.06 296.74H150.46M147.06 322.74H150.46M167.97 284.33V322.33M166.28 284.33H169.67M166.28 322.33H169.67M187.19 291.2V322.7M185.49 291.2H188.89M185.49 322.7H188.89M206.4 280.77V322.27M204.7 280.77H208.1M204.7 322.27H208.1" stroke="#de8b7c" stroke-width="0.9" fill="none"/>
<path d="M52.7 298.02V308.02M51 298.02H54.4M51 308.02H54.4M71.91 309V317M70.21 309H73.61M70.21 317H73.61M91.12 319.25V325.25M89.42 319.25H92.83M89.42 325.25H92.83M110.34 321.73V327.73M108.64 321.73H112.04M108.64 327.73H112.04M129.55 318.42V324.42M127.85 318.42H131.25M127.85 324.42H131.25M148.76 322.25V328.25M147.06 322.25H150.46M147.06 328.25H150.46M167.97 318.94V324.94M166.28 318.94H169.67M166.28 324.94H169.67M187.19 318.94V324.94M185.49 318.94H188.89M185.49 324.94H188.89M206.4 318.42V324.42M204.7 318.42H208.1M204.7 324.42H208.1" stroke="#ecd878" stroke-width="0.9" fill="none"/>
<path d="M52.7 284.47V300.47M51 284.47H54.4M51 300.47H54.4M71.91 301.88V307.88M70.21 301.88H73.61M70.21 307.88H73.61M91.12 306.74V312.74M89.42 306.74H92.83M89.42 312.74H92.83M110.34 311.22V319.22M108.64 311.22H112.04M108.64 319.22H112.04M129.55 313.81V321.81M127.85 313.81H131.25M127.85 321.81H131.25M148.76 313.81V321.81M147.06 313.81H150.46M147.06 321.81H150.46M167.97 311.77V321.77M166.28 311.77H169.67M166.28 321.77H169.67M187.19 310.48V320.48M185.49 310.48H188.89M185.49 320.48H188.89M206.4 303.74V315.74M204.7 303.74H208.1M204.7 315.74H208.1" stroke="#8faad8" stroke-width="0.9" fill="none"/>
<path d="M52.7 295.74V305.74M51 295.74H54.4M51 305.74H54.4M71.91 308.76V314.76M70.21 308.76H73.61M70.21 314.76H73.61M91.12 313.25V319.25M89.42 313.25H92.83M89.42 319.25H92.83M110.34 320.49V326.49M108.64 320.49H112.04M108.64 326.49H112.04M129.55 322.56V328.56M127.85 322.56H131.25M127.85 328.56H131.25M148.76 322.04V328.04M147.06 322.04H150.46M147.06 328.04H150.46M167.97 321.01V327.01M166.28 321.01H169.67M166.28 327.01H169.67M187.19 318.42V324.42M185.49 318.42H188.89M185.49 324.42H188.89M206.4 314.29V320.29M204.7 314.29H208.1M204.7 320.29H208.1" stroke="#a9d68b" stroke-width="0.9" fill="none"/>
<polyline points="52.7,302.5 71.91,298.68 91.12,304.36 110.34,304.36 129.55,301.78 148.76,301.78 167.97,298.16 187.19,297.64 206.4,291.95" stroke="#5a5a5a" stroke-width="1.05" fill="none" stroke-dasharray="2.6 1.8"/>
<path d="M52.7 300.5L54.7 302.5L52.7 304.5L50.7 302.5Z" fill="#5a5a5a"/>
<path d="M71.91 296.68L73.91 298.68L71.91 300.68L69.91 298.68Z" fill="#5a5a5a"/>
<path d="M91.12 302.36L93.12 304.36L91.12 306.36L89.12 304.36Z" fill="#5a5a5a"/>
<path d="M110.34 302.36L112.34 304.36L110.34 306.36L108.34 304.36Z" fill="#5a5a5a"/>
<path d="M129.55 299.78L131.55 301.78L129.55 303.78L127.55 301.78Z" fill="#5a5a5a"/>
<path d="M148.76 299.78L150.76 301.78L148.76 303.78L146.76 301.78Z" fill="#5a5a5a"/>
<path d="M167.97 296.16L169.97 298.16L167.97 300.16L165.97 298.16Z" fill="#5a5a5a"/>
<path d="M187.19 295.64L189.19 297.64L187.19 299.64L185.19 297.64Z" fill="#5a5a5a"/>
<path d="M206.4 289.95L208.4 291.95L206.4 293.95L204.4 291.95Z" fill="#5a5a5a"/>
<polyline points="52.7,264.24 71.91,291.95 91.12,297.64 110.34,307.98 129.55,306.95 148.76,309.74 167.97,303.33 187.19,306.95 206.4,301.52" stroke="#cf4e38" stroke-width="1.05" fill="none"/>
<path d="M52.7 266.44L54.9 262.37L50.5 262.37Z" fill="#cf4e38"/>
<path d="M71.91 294.15L74.11 290.08L69.71 290.08Z" fill="#cf4e38"/>
<path d="M91.12 299.84L93.33 295.77L88.92 295.77Z" fill="#cf4e38"/>
<path d="M110.34 310.18L112.54 306.11L108.14 306.11Z" fill="#cf4e38"/>
<path d="M129.55 309.15L131.75 305.08L127.35 305.08Z" fill="#cf4e38"/>
<path d="M148.76 311.94L150.96 307.87L146.56 307.87Z" fill="#cf4e38"/>
<path d="M167.97 305.53L170.17 301.46L165.78 301.46Z" fill="#cf4e38"/>
<path d="M187.19 309.15L189.39 305.08L184.99 305.08Z" fill="#cf4e38"/>
<path d="M206.4 303.72L208.6 299.65L204.2 299.65Z" fill="#cf4e38"/>
<polyline points="52.7,303.02 71.91,313 91.12,322.25 110.34,324.73 129.55,321.42 148.76,325.25 167.97,321.94 187.19,321.94 206.4,321.42" stroke="#e2c83a" stroke-width="1.05" fill="none"/>
<path d="M52.7 300.82L54.9 304.89L50.5 304.89Z" fill="#e2c83a"/>
<path d="M71.91 310.8L74.11 314.87L69.71 314.87Z" fill="#e2c83a"/>
<path d="M91.12 320.05L93.33 324.12L88.92 324.12Z" fill="#e2c83a"/>
<path d="M110.34 322.53L112.54 326.6L108.14 326.6Z" fill="#e2c83a"/>
<path d="M129.55 319.22L131.75 323.29L127.35 323.29Z" fill="#e2c83a"/>
<path d="M148.76 323.05L150.96 327.12L146.56 327.12Z" fill="#e2c83a"/>
<path d="M167.97 319.74L170.17 323.81L165.78 323.81Z" fill="#e2c83a"/>
<path d="M187.19 319.74L189.39 323.81L184.99 323.81Z" fill="#e2c83a"/>
<path d="M206.4 319.22L208.6 323.29L204.2 323.29Z" fill="#e2c83a"/>
<polyline points="52.7,292.47 71.91,304.88 91.12,309.74 110.34,315.22 129.55,317.81 148.76,317.81 167.97,316.77 187.19,315.48 206.4,309.74" stroke="#5a86c8" stroke-width="1.05" fill="none"/>
<rect x="50.9" y="290.67" width="3.6" height="3.6" fill="#5a86c8"/>
<rect x="70.11" y="303.08" width="3.6" height="3.6" fill="#5a86c8"/>
<rect x="89.33" y="307.94" width="3.6" height="3.6" fill="#5a86c8"/>
<rect x="108.54" y="313.42" width="3.6" height="3.6" fill="#5a86c8"/>
<rect x="127.75" y="316" width="3.6" height="3.6" fill="#5a86c8"/>
<rect x="146.96" y="316" width="3.6" height="3.6" fill="#5a86c8"/>
<rect x="166.17" y="314.97" width="3.6" height="3.6" fill="#5a86c8"/>
<rect x="185.39" y="313.68" width="3.6" height="3.6" fill="#5a86c8"/>
<rect x="204.6" y="307.94" width="3.6" height="3.6" fill="#5a86c8"/>
<polyline points="52.7,300.74 71.91,311.76 91.12,316.25 110.34,323.49 129.55,325.56 148.76,325.04 167.97,324.01 187.19,321.42 206.4,317.29" stroke="#8cc865" stroke-width="1.05" fill="none"/>
<circle cx="52.7" cy="300.74" r="1.9" fill="#8cc865"/>
<circle cx="71.91" cy="311.76" r="1.9" fill="#8cc865"/>
<circle cx="91.12" cy="316.25" r="1.9" fill="#8cc865"/>
<circle cx="110.34" cy="323.49" r="1.9" fill="#8cc865"/>
<circle cx="129.55" cy="325.56" r="1.9" fill="#8cc865"/>
<circle cx="148.76" cy="325.04" r="1.9" fill="#8cc865"/>
<circle cx="167.97" cy="324.01" r="1.9" fill="#8cc865"/>
<circle cx="187.19" cy="321.42" r="1.9" fill="#8cc865"/>
<circle cx="206.4" cy="317.29" r="1.9" fill="#8cc865"/>
<text x="230.8" y="209.8" font-size="17" text-anchor="start" font-weight="bold" fill="#000">e</text>
<text transform="translate(356 215.5) scale(0.9091 1)" font-size="11.55" text-anchor="middle" font-weight="bold" fill="#000">IgG</text>
<text font-size="9.94" text-anchor="middle" fill="#151515" transform="translate(249.9 296.6) rotate(-90) scale(0.8850 1)">Mean percentage change from baseline (%)</text>
<path d="M270.3 233V362.55 M269.75 362H442" stroke="#4a4a4a" stroke-width="1.1" fill="none"/>
<text transform="translate(265.1 236.05) scale(0.8850 1)" font-size="9.6" text-anchor="end" font-weight="normal" fill="#151515">30</text>
<text transform="translate(265.1 257.55) scale(0.8850 1)" font-size="9.6" text-anchor="end" font-weight="normal" fill="#151515">15</text>
<text transform="translate(265.1 279.05) scale(0.8850 1)" font-size="9.6" text-anchor="end" font-weight="normal" fill="#151515">0</text>
<text transform="translate(265.1 300.55) scale(0.8850 1)" font-size="9.6" text-anchor="end" font-weight="normal" fill="#151515">-15</text>
<text transform="translate(265.1 322.05) scale(0.8850 1)" font-size="9.6" text-anchor="end" font-weight="normal" fill="#151515">-30</text>
<text transform="translate(265.1 343.55) scale(0.8850 1)" font-size="9.6" text-anchor="end" font-weight="normal" fill="#151515">-45</text>
<text transform="translate(265.1 365.05) scale(0.8850 1)" font-size="9.6" text-anchor="end" font-weight="normal" fill="#151515">-60</text>
<text transform="translate(270.3 374) scale(0.8850 1)" font-size="9.6" text-anchor="middle" font-weight="normal" fill="#151515">BL</text>
<text transform="translate(291.76 374) scale(0.8850 1)" font-size="9.6" text-anchor="middle" font-weight="normal" fill="#151515">15</text>
<text transform="translate(313.23 374) scale(0.8850 1)" font-size="9.6" text-anchor="middle" font-weight="normal" fill="#151515">29</text>
<text transform="translate(334.69 374) scale(0.8850 1)" font-size="9.6" text-anchor="middle" font-weight="normal" fill="#151515">43</text>
<text transform="translate(356.15 374) scale(0.8850 1)" font-size="9.6" text-anchor="middle" font-weight="normal" fill="#151515">57</text>
<text transform="translate(377.61 374) scale(0.8850 1)" font-size="9.6" text-anchor="middle" font-weight="normal" fill="#151515">71</text>
<text transform="translate(399.07 374) scale(0.8850 1)" font-size="9.6" text-anchor="middle" font-weight="normal" fill="#151515">85</text>
<text transform="translate(420.54 374) scale(0.8850 1)" font-size="9.6" text-anchor="middle" font-weight="normal" fill="#151515">99</text>
<text transform="translate(442 374) scale(0.8850 1)" font-size="9.6" text-anchor="middle" font-weight="normal" fill="#151515">113</text>
<path d="M266.4 233H270.3M266.4 254.5H270.3M266.4 276H270.3M266.4 297.5H270.3M266.4 319H270.3M266.4 340.5H270.3M266.4 362H270.3M270.3 362V365M291.76 362V365M313.23 362V365M334.69 362V365M356.15 362V365M377.61 362V365M399.07 362V365M420.54 362V365M442 362V365" stroke="#4a4a4a" stroke-width="1" fill="none"/>
<text transform="translate(356.5 387.6) scale(0.8850 1)" font-size="9.83" text-anchor="middle" font-weight="normal" fill="#151515">Day</text>
<path d="M356.15 227.5V243.75 M356.15 235.5H417.2" stroke="#333" stroke-width="0.9" fill="none"/>
<path d="M421.2 235.5L416.2 233.5L416.2 237.5Z" fill="#222"/>
<text transform="translate(359.45 233.4) scale(0.8850 1)" font-size="9.72" text-anchor="start" font-weight="normal" fill="#151515">Off treatment</text>
<path d="M291.76 261.97V273.97M290.06 261.97H293.46M290.06 273.97H293.46M313.23 275.44V283.44M311.53 275.44H314.93M311.53 283.44H314.93M334.69 281.18V293.18M332.99 281.18H336.39M332.99 293.18H336.39M356.15 281.03V289.03M354.45 281.03H357.85M354.45 289.03H357.85M377.61 273.01V283.01M375.91 273.01H379.31M375.91 283.01H379.31M399.07 265.98V275.98M397.38 265.98H400.77M397.38 275.98H400.77M420.54 263.98V273.98M418.84 263.98H422.24M418.84 273.98H422.24M442 247.79V265.79M440.3 247.79H443.7M440.3 265.79H443.7" stroke="#8a8a8a" stroke-width="0.9" fill="none"/>
<path d="M291.76 310.56V318.56M290.06 310.56H293.46M290.06 318.56H293.46M313.23 318.45V330.45M311.53 318.45H314.93M311.53 330.45H314.93M334.69 325.19V339.19M332.99 325.19H336.39M332.99 339.19H336.39M356.15 325.19V339.19M354.45 325.19H357.85M354.45 339.19H357.85M377.61 328.05V342.05M375.91 328.05H379.31M375.91 342.05H379.31M399.07 319.46V335.46M397.38 319.46H400.77M397.38 335.46H400.77M420.54 325.05V341.05M418.84 325.05H422.24M418.84 341.05H422.24M442 319.32V339.32M440.3 319.32H443.7M440.3 339.32H443.7" stroke="#de8b7c" stroke-width="0.9" fill="none"/>
<path d="M291.76 297.51V303.51M290.06 297.51H293.46M290.06 303.51H293.46M313.23 318.44V328.44M311.53 318.44H314.93M311.53 328.44H314.93M334.69 325.75V333.75M332.99 325.75H336.39M332.99 333.75H336.39M356.15 316.43V324.43M354.45 316.43H357.85M354.45 324.43H357.85M377.61 323.03V333.03M375.91 323.03H379.31M375.91 333.03H379.31M399.07 317.72V325.72M397.38 317.72H400.77M397.38 325.72H400.77M420.54 319.01V327.01M418.84 319.01H422.24M418.84 327.01H422.24M442 316.72V324.72M440.3 316.72H443.7M440.3 324.72H443.7" stroke="#ecd878" stroke-width="0.9" fill="none"/>
<path d="M291.76 296.22V300.22M290.06 296.22H293.46M290.06 300.22H293.46M313.23 302.53V310.53M311.53 302.53H314.93M311.53 310.53H314.93M334.69 311.57V323.57M332.99 311.57H336.39M332.99 323.57H336.39M356.15 314.43V326.43M354.45 314.43H357.85M354.45 326.43H357.85M377.61 314.43V326.43M375.91 314.43H379.31M375.91 326.43H379.31M399.07 312V324M397.38 312H400.77M397.38 324H400.77M420.54 311.56V321.56M418.84 311.56H422.24M418.84 321.56H422.24M442 299.52V309.52M440.3 299.52H443.7M440.3 309.52H443.7" stroke="#8faad8" stroke-width="0.9" fill="none"/>
<path d="M291.76 297.94V303.94M290.06 297.94H293.46M290.06 303.94H293.46M313.23 307.69V315.69M311.53 307.69H314.93M311.53 315.69H314.93M334.69 325.75V333.75M332.99 325.75H336.39M332.99 333.75H336.39M356.15 326.75V334.75M354.45 326.75H357.85M354.45 334.75H357.85M377.61 325.75V333.75M375.91 325.75H379.31M375.91 333.75H379.31M399.07 325.46V333.46M397.38 325.46H400.77M397.38 333.46H400.77M420.54 319.3V327.3M418.84 319.3H422.24M418.84 327.3H422.24M442 311.27V319.27M440.3 311.27H443.7M440.3 319.27H443.7" stroke="#a9d68b" stroke-width="0.9" fill="none"/>
<polyline points="270.3,276 291.76,267.97 313.23,279.44 334.69,287.18 356.15,285.03 377.61,278.01 399.07,270.98 420.54,268.98 442,256.79" stroke="#5a5a5a" stroke-width="1.05" fill="none" stroke-dasharray="2.6 1.8"/>
<path d="M270.3 274L272.3 276L270.3 278L268.3 276Z" fill="#5a5a5a"/>
<path d="M291.76 265.97L293.76 267.97L291.76 269.97L289.76 267.97Z" fill="#5a5a5a"/>
<path d="M313.23 277.44L315.23 279.44L313.23 281.44L311.23 279.44Z" fill="#5a5a5a"/>
<path d="M334.69 285.18L336.69 287.18L334.69 289.18L332.69 287.18Z" fill="#5a5a5a"/>
<path d="M356.15 283.03L358.15 285.03L356.15 287.03L354.15 285.03Z" fill="#5a5a5a"/>
<path d="M377.61 276.01L379.61 278.01L377.61 280.01L375.61 278.01Z" fill="#5a5a5a"/>
<path d="M399.07 268.98L401.07 270.98L399.07 272.98L397.07 270.98Z" fill="#5a5a5a"/>
<path d="M420.54 266.98L422.54 268.98L420.54 270.98L418.54 268.98Z" fill="#5a5a5a"/>
<path d="M442 254.79L444 256.79L442 258.79L440 256.79Z" fill="#5a5a5a"/>
<polyline points="270.3,276 291.76,314.56 313.23,324.45 334.69,332.19 356.15,332.19 377.61,335.05 399.07,327.46 420.54,333.05 442,329.32" stroke="#cf4e38" stroke-width="1.05" fill="none"/>
<path d="M270.3 278.2L272.5 274.13L268.1 274.13Z" fill="#cf4e38"/>
<path d="M291.76 316.76L293.96 312.69L289.56 312.69Z" fill="#cf4e38"/>
<path d="M313.23 326.65L315.43 322.58L311.03 322.58Z" fill="#cf4e38"/>
<path d="M334.69 334.39L336.89 330.32L332.49 330.32Z" fill="#cf4e38"/>
<path d="M356.15 334.39L358.35 330.32L353.95 330.32Z" fill="#cf4e38"/>
<path d="M377.61 337.25L379.81 333.18L375.41 333.18Z" fill="#cf4e38"/>
<path d="M399.07 329.66L401.27 325.59L396.88 325.59Z" fill="#cf4e38"/>
<path d="M420.54 335.25L422.74 331.18L418.34 331.18Z" fill="#cf4e38"/>
<path d="M442 331.52L444.2 327.45L439.8 327.45Z" fill="#cf4e38"/>
<polyline points="270.3,276 291.76,300.51 313.23,323.44 334.69,329.75 356.15,320.43 377.61,328.03 399.07,321.72 420.54,323.01 442,320.72" stroke="#e2c83a" stroke-width="1.05" fill="none"/>
<path d="M270.3 273.8L272.5 277.87L268.1 277.87Z" fill="#e2c83a"/>
<path d="M291.76 298.31L293.96 302.38L289.56 302.38Z" fill="#e2c83a"/>
<path d="M313.23 321.24L315.43 325.31L311.03 325.31Z" fill="#e2c83a"/>
<path d="M334.69 327.55L336.89 331.62L332.49 331.62Z" fill="#e2c83a"/>
<path d="M356.15 318.23L358.35 322.3L353.95 322.3Z" fill="#e2c83a"/>
<path d="M377.61 325.83L379.81 329.9L375.41 329.9Z" fill="#e2c83a"/>
<path d="M399.07 319.52L401.27 323.59L396.88 323.59Z" fill="#e2c83a"/>
<path d="M420.54 320.81L422.74 324.88L418.34 324.88Z" fill="#e2c83a"/>
<path d="M442 318.52L444.2 322.59L439.8 322.59Z" fill="#e2c83a"/>
<polyline points="270.3,276 291.76,298.22 313.23,306.53 334.69,317.57 356.15,320.43 377.61,320.43 399.07,318 420.54,316.56 442,304.52" stroke="#5a86c8" stroke-width="1.05" fill="none"/>
<rect x="268.5" y="274.2" width="3.6" height="3.6" fill="#5a86c8"/>
<rect x="289.96" y="296.42" width="3.6" height="3.6" fill="#5a86c8"/>
<rect x="311.43" y="304.73" width="3.6" height="3.6" fill="#5a86c8"/>
<rect x="332.89" y="315.77" width="3.6" height="3.6" fill="#5a86c8"/>
<rect x="354.35" y="318.63" width="3.6" height="3.6" fill="#5a86c8"/>
<rect x="375.81" y="318.63" width="3.6" height="3.6" fill="#5a86c8"/>
<rect x="397.27" y="316.2" width="3.6" height="3.6" fill="#5a86c8"/>
<rect x="418.74" y="314.76" width="3.6" height="3.6" fill="#5a86c8"/>
<rect x="440.2" y="302.72" width="3.6" height="3.6" fill="#5a86c8"/>
<polyline points="270.3,276 291.76,300.94 313.23,311.69 334.69,329.75 356.15,330.75 377.61,329.75 399.07,329.46 420.54,323.3 442,315.27" stroke="#8cc865" stroke-width="1.05" fill="none"/>
<circle cx="270.3" cy="276" r="1.9" fill="#8cc865"/>
<circle cx="291.76" cy="300.94" r="1.9" fill="#8cc865"/>
<circle cx="313.23" cy="311.69" r="1.9" fill="#8cc865"/>
<circle cx="334.69" cy="329.75" r="1.9" fill="#8cc865"/>
<circle cx="356.15" cy="330.75" r="1.9" fill="#8cc865"/>
<circle cx="377.61" cy="329.75" r="1.9" fill="#8cc865"/>
<circle cx="399.07" cy="329.46" r="1.9" fill="#8cc865"/>
<circle cx="420.54" cy="323.3" r="1.9" fill="#8cc865"/>
<circle cx="442" cy="315.27" r="1.9" fill="#8cc865"/>
<text x="466.5" y="210" font-size="17" text-anchor="start" font-weight="bold" fill="#000">f</text>
<text transform="translate(591.6 215.7) scale(0.9091 1)" font-size="11.55" text-anchor="middle" font-weight="bold" fill="#000">IgA</text>
<text font-size="9.94" text-anchor="middle" fill="#151515" transform="translate(493.2 296.3) rotate(-90) scale(0.8850 1)">Concentrations (g/L)</text>
<path d="M505.56 233V362.3 M505.01 361.75H677.4" stroke="#4a4a4a" stroke-width="1.1" fill="none"/>
<text transform="translate(500.36 236.05) scale(0.8850 1)" font-size="9.6" text-anchor="end" font-weight="normal" fill="#151515">5</text>
<text transform="translate(500.36 261.8) scale(0.8850 1)" font-size="9.6" text-anchor="end" font-weight="normal" fill="#151515">4</text>
<text transform="translate(500.36 287.55) scale(0.8850 1)" font-size="9.6" text-anchor="end" font-weight="normal" fill="#151515">3</text>
<text transform="translate(500.36 313.3) scale(0.8850 1)" font-size="9.6" text-anchor="end" font-weight="normal" fill="#151515">2</text>
<text transform="translate(500.36 339.05) scale(0.8850 1)" font-size="9.6" text-anchor="end" font-weight="normal" fill="#151515">1</text>
<text transform="translate(500.36 364.8) scale(0.8850 1)" font-size="9.6" text-anchor="end" font-weight="normal" fill="#151515">0</text>
<text transform="translate(505.56 374.6) scale(0.8850 1)" font-size="9.6" text-anchor="middle" font-weight="normal" fill="#151515">BL</text>
<text transform="translate(527.04 374.6) scale(0.8850 1)" font-size="9.6" text-anchor="middle" font-weight="normal" fill="#151515">15</text>
<text transform="translate(548.52 374.6) scale(0.8850 1)" font-size="9.6" text-anchor="middle" font-weight="normal" fill="#151515">29</text>
<text transform="translate(570 374.6) scale(0.8850 1)" font-size="9.6" text-anchor="middle" font-weight="normal" fill="#151515">43</text>
<text transform="translate(591.48 374.6) scale(0.8850 1)" font-size="9.6" text-anchor="middle" font-weight="normal" fill="#151515">57</text>
<text transform="translate(612.96 374.6) scale(0.8850 1)" font-size="9.6" text-anchor="middle" font-weight="normal" fill="#151515">71</text>
<text transform="translate(634.44 374.6) scale(0.8850 1)" font-size="9.6" text-anchor="middle" font-weight="normal" fill="#151515">85</text>
<text transform="translate(655.92 374.6) scale(0.8850 1)" font-size="9.6" text-anchor="middle" font-weight="normal" fill="#151515">99</text>
<text transform="translate(677.4 374.6) scale(0.8850 1)" font-size="9.6" text-anchor="middle" font-weight="normal" fill="#151515">113</text>
<path d="M501.66 233H505.56M501.66 258.75H505.56M501.66 284.5H505.56M501.66 310.25H505.56M501.66 336H505.56M501.66 361.75H505.56M505.56 361.75V364.75M527.04 361.75V364.75M548.52 361.75V364.75M570 361.75V364.75M591.48 361.75V364.75M612.96 361.75V364.75M634.44 361.75V364.75M655.92 361.75V364.75M677.4 361.75V364.75" stroke="#4a4a4a" stroke-width="1" fill="none"/>
<text transform="translate(591.6 387.6) scale(0.8850 1)" font-size="9.83" text-anchor="middle" font-weight="normal" fill="#151515">Day</text>
<path d="M591.48 227.5V243.75 M591.48 235.5H653" stroke="#333" stroke-width="0.9" fill="none"/>
<path d="M657 235.5L652 233.5L652 237.5Z" fill="#222"/>
<text transform="translate(594.78 233) scale(0.8850 1)" font-size="9.72" text-anchor="start" font-weight="normal" fill="#151515">Off treatment</text>
<path d="M527.04 258.12V285.12M525.34 258.12H528.74M525.34 285.12H528.74M548.52 251.03V285.53M546.82 251.03H550.22M546.82 285.53H550.22M570 265.07V291.57M568.3 265.07H571.7M568.3 291.57H571.7M591.48 254.55V283.55M589.78 254.55H593.18M589.78 283.55H593.18M612.96 257.62V285.62M611.26 257.62H614.66M611.26 285.62H614.66M634.44 256.9V287.9M632.74 256.9H636.14M632.74 287.9H636.14M655.92 259.44V288.44M654.22 259.44H657.62M654.22 288.44H657.62M677.4 244.38V281.88M675.7 244.38H679.1M675.7 281.88H679.1" stroke="#8a8a8a" stroke-width="0.9" fill="none"/>
<path d="M505.56 262.12V298.12M503.86 262.12H507.26M503.86 298.12H507.26M527.04 320.93V328.93M525.34 320.93H528.74M525.34 328.93H528.74M548.52 330.74V340.74M546.82 330.74H550.22M546.82 340.74H550.22M570 335.12V345.12M568.3 335.12H571.7M568.3 345.12H571.7M591.48 336.89V344.89M589.78 336.89H593.18M589.78 344.89H593.18M612.96 339.21V347.21M611.26 339.21H614.66M611.26 347.21H614.66M634.44 337.66V345.66M632.74 337.66H636.14M632.74 345.66H636.14M655.92 339.69V345.69M654.22 339.69H657.62M654.22 345.69H657.62M677.4 339.44V345.44M675.7 339.44H679.1M675.7 345.44H679.1" stroke="#de8b7c" stroke-width="0.9" fill="none"/>
<path d="M505.56 281.71V301.71M503.86 281.71H507.26M503.86 301.71H507.26M527.04 322.73V330.73M525.34 322.73H528.74M525.34 330.73H528.74M548.52 333.29V341.29M546.82 333.29H550.22M546.82 341.29H550.22M570 337.89V343.89M568.3 337.89H571.7M568.3 343.89H571.7M591.48 338.15V344.15M589.78 338.15H593.18M589.78 344.15H593.18M612.96 338.66V344.66M611.26 338.66H614.66M611.26 344.66H614.66M634.44 339.95V345.95M632.74 339.95H636.14M632.74 345.95H636.14M655.92 339.95V345.95M654.22 339.95H657.62M654.22 345.95H657.62M677.4 338.15V344.15M675.7 338.15H679.1M675.7 344.15H679.1" stroke="#ecd878" stroke-width="0.9" fill="none"/>
<path d="M505.56 257.03V297.03M503.86 257.03H507.26M503.86 297.03H507.26M527.04 307.2V327.2M525.34 307.2H528.74M525.34 327.2H528.74M548.52 329.26V343.26M546.82 329.26H550.22M546.82 343.26H550.22M570 343.33V351.33M568.3 343.33H571.7M568.3 351.33H571.7M591.48 345.62V351.62M589.78 345.62H593.18M589.78 351.62H593.18M612.96 345.62V351.62M611.26 345.62H614.66M611.26 351.62H614.66M634.44 347.9V351.9M632.74 347.9H636.14M632.74 351.9H636.14M655.92 345.1V351.1M654.22 345.1H657.62M654.22 351.1H657.62M677.4 333.38V347.38M675.7 333.38H679.1M675.7 347.38H679.1" stroke="#8faad8" stroke-width="0.9" fill="none"/>
<path d="M505.56 297.3V309.3M503.86 297.3H507.26M503.86 309.3H507.26M527.04 328.37V334.37M525.34 328.37H528.74M525.34 334.37H528.74M548.52 335.32V341.32M546.82 335.32H550.22M546.82 341.32H550.22M570 344.85V350.85M568.3 344.85H571.7M568.3 350.85H571.7M591.48 347.13V351.13M589.78 347.13H593.18M589.78 351.13H593.18M612.96 346.36V350.36M611.26 346.36H614.66M611.26 350.36H614.66M634.44 345.33V349.33M632.74 345.33H636.14M632.74 349.33H636.14M655.92 343.53V347.53M654.22 343.53H657.62M654.22 347.53H657.62M677.4 339.92V343.92M675.7 339.92H679.1M675.7 343.92H679.1" stroke="#a9d68b" stroke-width="0.9" fill="none"/>
<polyline points="505.56,276 527.04,271.62 548.52,268.28 570,278.32 591.48,269.05 612.96,271.62 634.44,272.4 655.92,273.94 677.4,263.13" stroke="#5a5a5a" stroke-width="1.05" fill="none" stroke-dasharray="2.6 1.8"/>
<path d="M505.56 274L507.56 276L505.56 278L503.56 276Z" fill="#5a5a5a"/>
<path d="M527.04 269.62L529.04 271.62L527.04 273.62L525.04 271.62Z" fill="#5a5a5a"/>
<path d="M548.52 266.28L550.52 268.28L548.52 270.28L546.52 268.28Z" fill="#5a5a5a"/>
<path d="M570 276.32L572 278.32L570 280.32L568 278.32Z" fill="#5a5a5a"/>
<path d="M591.48 267.05L593.48 269.05L591.48 271.05L589.48 269.05Z" fill="#5a5a5a"/>
<path d="M612.96 269.62L614.96 271.62L612.96 273.62L610.96 271.62Z" fill="#5a5a5a"/>
<path d="M634.44 270.4L636.44 272.4L634.44 274.4L632.44 272.4Z" fill="#5a5a5a"/>
<path d="M655.92 271.94L657.92 273.94L655.92 275.94L653.92 273.94Z" fill="#5a5a5a"/>
<path d="M677.4 261.13L679.4 263.13L677.4 265.13L675.4 263.13Z" fill="#5a5a5a"/>
<polyline points="505.56,280.12 527.04,324.93 548.52,335.74 570,340.12 591.48,340.89 612.96,343.21 634.44,341.66 655.92,342.69 677.4,342.44" stroke="#cf4e38" stroke-width="1.05" fill="none"/>
<path d="M505.56 282.32L507.76 278.25L503.36 278.25Z" fill="#cf4e38"/>
<path d="M527.04 327.13L529.24 323.06L524.84 323.06Z" fill="#cf4e38"/>
<path d="M548.52 337.94L550.72 333.87L546.32 333.87Z" fill="#cf4e38"/>
<path d="M570 342.32L572.2 338.25L567.8 338.25Z" fill="#cf4e38"/>
<path d="M591.48 343.09L593.68 339.02L589.28 339.02Z" fill="#cf4e38"/>
<path d="M612.96 345.41L615.16 341.34L610.76 341.34Z" fill="#cf4e38"/>
<path d="M634.44 343.86L636.64 339.79L632.24 339.79Z" fill="#cf4e38"/>
<path d="M655.92 344.89L658.12 340.82L653.72 340.82Z" fill="#cf4e38"/>
<path d="M677.4 344.64L679.6 340.57L675.2 340.57Z" fill="#cf4e38"/>
<polyline points="505.56,291.71 527.04,326.73 548.52,337.29 570,340.89 591.48,341.15 612.96,341.66 634.44,342.95 655.92,342.95 677.4,341.15" stroke="#e2c83a" stroke-width="1.05" fill="none"/>
<path d="M505.56 289.51L507.76 293.58L503.36 293.58Z" fill="#e2c83a"/>
<path d="M527.04 324.53L529.24 328.6L524.84 328.6Z" fill="#e2c83a"/>
<path d="M548.52 335.09L550.72 339.16L546.32 339.16Z" fill="#e2c83a"/>
<path d="M570 338.69L572.2 342.76L567.8 342.76Z" fill="#e2c83a"/>
<path d="M591.48 338.95L593.68 343.02L589.28 343.02Z" fill="#e2c83a"/>
<path d="M612.96 339.46L615.16 343.53L610.76 343.53Z" fill="#e2c83a"/>
<path d="M634.44 340.75L636.64 344.82L632.24 344.82Z" fill="#e2c83a"/>
<path d="M655.92 340.75L658.12 344.82L653.72 344.82Z" fill="#e2c83a"/>
<path d="M677.4 338.95L679.6 343.02L675.2 343.02Z" fill="#e2c83a"/>
<polyline points="505.56,277.03 527.04,317.2 548.52,336.26 570,347.33 591.48,348.62 612.96,348.62 634.44,349.9 655.92,348.1 677.4,340.38" stroke="#5a86c8" stroke-width="1.05" fill="none"/>
<rect x="503.76" y="275.23" width="3.6" height="3.6" fill="#5a86c8"/>
<rect x="525.24" y="315.4" width="3.6" height="3.6" fill="#5a86c8"/>
<rect x="546.72" y="334.46" width="3.6" height="3.6" fill="#5a86c8"/>
<rect x="568.2" y="345.53" width="3.6" height="3.6" fill="#5a86c8"/>
<rect x="589.68" y="346.82" width="3.6" height="3.6" fill="#5a86c8"/>
<rect x="611.16" y="346.82" width="3.6" height="3.6" fill="#5a86c8"/>
<rect x="632.64" y="348.1" width="3.6" height="3.6" fill="#5a86c8"/>
<rect x="654.12" y="346.3" width="3.6" height="3.6" fill="#5a86c8"/>
<rect x="675.6" y="338.58" width="3.6" height="3.6" fill="#5a86c8"/>
<polyline points="505.56,303.3 527.04,331.37 548.52,338.32 570,347.85 591.48,349.13 612.96,348.36 634.44,347.33 655.92,345.53 677.4,341.92" stroke="#8cc865" stroke-width="1.05" fill="none"/>
<circle cx="505.56" cy="303.3" r="1.9" fill="#8cc865"/>
<circle cx="527.04" cy="331.37" r="1.9" fill="#8cc865"/>
<circle cx="548.52" cy="338.32" r="1.9" fill="#8cc865"/>
<circle cx="570" cy="347.85" r="1.9" fill="#8cc865"/>
<circle cx="591.48" cy="349.13" r="1.9" fill="#8cc865"/>
<circle cx="612.96" cy="348.36" r="1.9" fill="#8cc865"/>
<circle cx="634.44" cy="347.33" r="1.9" fill="#8cc865"/>
<circle cx="655.92" cy="345.53" r="1.9" fill="#8cc865"/>
<circle cx="677.4" cy="341.92" r="1.9" fill="#8cc865"/>
<text x="2.5" y="402.6" font-size="17" text-anchor="start" font-weight="bold" fill="#000">g</text>
<text transform="translate(128.9 415.4) scale(0.9091 1)" font-size="11.55" text-anchor="middle" font-weight="bold" fill="#000">IgA</text>
<text font-size="9.94" text-anchor="middle" fill="#151515" transform="translate(17.5 495.45) rotate(-90) scale(0.8850 1)">Mean percentage change from baseline (%)</text>
<path d="M43.2 432.5V561.8 M42.65 561.25H215.2" stroke="#4a4a4a" stroke-width="1.1" fill="none"/>
<text transform="translate(38 435.55) scale(0.8850 1)" font-size="9.6" text-anchor="end" font-weight="normal" fill="#151515">20</text>
<text transform="translate(38 457.01) scale(0.8850 1)" font-size="9.6" text-anchor="end" font-weight="normal" fill="#151515">0</text>
<text transform="translate(38 478.47) scale(0.8850 1)" font-size="9.6" text-anchor="end" font-weight="normal" fill="#151515">-20</text>
<text transform="translate(38 499.93) scale(0.8850 1)" font-size="9.6" text-anchor="end" font-weight="normal" fill="#151515">-40</text>
<text transform="translate(38 521.38) scale(0.8850 1)" font-size="9.6" text-anchor="end" font-weight="normal" fill="#151515">-60</text>
<text transform="translate(38 542.84) scale(0.8850 1)" font-size="9.6" text-anchor="end" font-weight="normal" fill="#151515">-80</text>
<text transform="translate(38 564.3) scale(0.8850 1)" font-size="9.6" text-anchor="end" font-weight="normal" fill="#151515">-100</text>
<text transform="translate(43.2 574.2) scale(0.8850 1)" font-size="9.6" text-anchor="middle" font-weight="normal" fill="#151515">BL</text>
<text transform="translate(64.7 574.2) scale(0.8850 1)" font-size="9.6" text-anchor="middle" font-weight="normal" fill="#151515">15</text>
<text transform="translate(86.2 574.2) scale(0.8850 1)" font-size="9.6" text-anchor="middle" font-weight="normal" fill="#151515">29</text>
<text transform="translate(107.7 574.2) scale(0.8850 1)" font-size="9.6" text-anchor="middle" font-weight="normal" fill="#151515">43</text>
<text transform="translate(129.2 574.2) scale(0.8850 1)" font-size="9.6" text-anchor="middle" font-weight="normal" fill="#151515">57</text>
<text transform="translate(150.7 574.2) scale(0.8850 1)" font-size="9.6" text-anchor="middle" font-weight="normal" fill="#151515">71</text>
<text transform="translate(172.2 574.2) scale(0.8850 1)" font-size="9.6" text-anchor="middle" font-weight="normal" fill="#151515">85</text>
<text transform="translate(193.7 574.2) scale(0.8850 1)" font-size="9.6" text-anchor="middle" font-weight="normal" fill="#151515">99</text>
<text transform="translate(215.2 574.2) scale(0.8850 1)" font-size="9.6" text-anchor="middle" font-weight="normal" fill="#151515">113</text>
<path d="M39.3 432.5H43.2M39.3 453.96H43.2M39.3 475.42H43.2M39.3 496.88H43.2M39.3 518.33H43.2M39.3 539.79H43.2M39.3 561.25H43.2M43.2 561.25V564.25M64.7 561.25V564.25M86.2 561.25V564.25M107.7 561.25V564.25M129.2 561.25V564.25M150.7 561.25V564.25M172.2 561.25V564.25M193.7 561.25V564.25M215.2 561.25V564.25" stroke="#4a4a4a" stroke-width="1" fill="none"/>
<text transform="translate(129.6 587.6) scale(0.8850 1)" font-size="9.83" text-anchor="middle" font-weight="normal" fill="#151515">Day</text>
<path d="M129.2 427.2V443.5 M129.2 435.5H190.5" stroke="#333" stroke-width="0.9" fill="none"/>
<path d="M194.5 435.5L189.5 433.5L189.5 437.5Z" fill="#222"/>
<text transform="translate(132.5 433) scale(0.8850 1)" font-size="9.72" text-anchor="start" font-weight="normal" fill="#151515">Off treatment</text>
<path d="M64.7 441.41V450.41M63 441.41H66.4M63 450.41H66.4M86.2 442.98V447.98M84.5 442.98H87.9M84.5 447.98H87.9M107.7 453.97V465.97M106 453.97H109.4M106 465.97H109.4M129.2 451.49V457.49M127.5 451.49H130.9M127.5 457.49H130.9M150.7 449.74V454.74M149 449.74H152.4M149 454.74H152.4M172.2 451.71V457.71M170.5 451.71H173.9M170.5 457.71H173.9M193.7 452.46V458.46M192 452.46H195.4M192 458.46H195.4M215.2 442.48V448.48M213.5 442.48H216.9M213.5 448.48H216.9" stroke="#8a8a8a" stroke-width="0.9" fill="none"/>
<path d="M64.7 502.93V512.93M63 502.93H66.4M63 512.93H66.4M86.2 515.73V523.73M84.5 515.73H87.9M84.5 523.73H87.9M107.7 520.7V532.7M106 520.7H109.4M106 532.7H109.4M129.2 521.99V533.99M127.5 521.99H130.9M127.5 533.99H130.9M150.7 524.71V534.71M149 524.71H152.4M149 534.71H152.4M172.2 521.49V531.49M170.5 521.49H173.9M170.5 531.49H173.9M193.7 524.28V534.28M192 524.28H195.4M192 534.28H195.4M215.2 522.45V532.45M213.5 522.45H216.9M213.5 532.45H216.9" stroke="#de8b7c" stroke-width="0.9" fill="none"/>
<path d="M64.7 504.5V516.5M63 504.5H66.4M63 516.5H66.4M86.2 511.19V527.19M84.5 511.19H87.9M84.5 527.19H87.9M107.7 519.49V533.49M106 519.49H109.4M106 533.49H109.4M129.2 518.95V532.95M127.5 518.95H130.9M127.5 532.95H130.9M150.7 519.45V535.45M149 519.45H152.4M149 535.45H152.4M172.2 521.53V535.53M170.5 521.53H173.9M170.5 535.53H173.9M193.7 520.99V534.99M192 520.99H195.4M192 534.99H195.4M215.2 520.24V534.24M213.5 520.24H216.9M213.5 534.24H216.9" stroke="#ecd878" stroke-width="0.9" fill="none"/>
<path d="M64.7 501.99V509.99M63 501.99H66.4M63 509.99H66.4M86.2 525.99V529.99M84.5 525.99H87.9M84.5 529.99H87.9M107.7 535.04V543.04M106 535.04H109.4M106 543.04H109.4M129.2 535.26V543.26M127.5 535.26H130.9M127.5 543.26H130.9M150.7 535.47V543.47M149 535.47H152.4M149 543.47H152.4M172.2 535.79V543.79M170.5 535.79H173.9M170.5 543.79H173.9M193.7 534.5V542.5M192 534.5H195.4M192 542.5H195.4M215.2 529.46V537.46M213.5 529.46H216.9M213.5 537.46H216.9" stroke="#8faad8" stroke-width="0.9" fill="none"/>
<path d="M64.7 502.24V508.24M63 502.24H66.4M63 508.24H66.4M86.2 516.19V522.19M84.5 516.19H87.9M84.5 522.19H87.9M107.7 532.29V538.29M106 532.29H109.4M106 538.29H109.4M129.2 534.97V540.97M127.5 534.97H130.9M127.5 540.97H130.9M150.7 533.79V539.79M149 533.79H152.4M149 539.79H152.4M172.2 532.5V538.5M170.5 532.5H173.9M170.5 538.5H173.9M193.7 528.74V534.74M192 528.74H195.4M192 534.74H195.4M215.2 524.45V530.45M213.5 524.45H216.9M213.5 530.45H216.9" stroke="#a9d68b" stroke-width="0.9" fill="none"/>
<polyline points="43.2,453.96 64.7,445.91 86.2,445.48 107.7,459.97 129.2,454.49 150.7,452.24 172.2,454.71 193.7,455.46 215.2,445.48" stroke="#5a5a5a" stroke-width="1.05" fill="none" stroke-dasharray="2.6 1.8"/>
<path d="M43.2 451.96L45.2 453.96L43.2 455.96L41.2 453.96Z" fill="#5a5a5a"/>
<path d="M64.7 443.91L66.7 445.91L64.7 447.91L62.7 445.91Z" fill="#5a5a5a"/>
<path d="M86.2 443.48L88.2 445.48L86.2 447.48L84.2 445.48Z" fill="#5a5a5a"/>
<path d="M107.7 457.97L109.7 459.97L107.7 461.97L105.7 459.97Z" fill="#5a5a5a"/>
<path d="M129.2 452.49L131.2 454.49L129.2 456.49L127.2 454.49Z" fill="#5a5a5a"/>
<path d="M150.7 450.24L152.7 452.24L150.7 454.24L148.7 452.24Z" fill="#5a5a5a"/>
<path d="M172.2 452.71L174.2 454.71L172.2 456.71L170.2 454.71Z" fill="#5a5a5a"/>
<path d="M193.7 453.46L195.7 455.46L193.7 457.46L191.7 455.46Z" fill="#5a5a5a"/>
<path d="M215.2 443.48L217.2 445.48L215.2 447.48L213.2 445.48Z" fill="#5a5a5a"/>
<polyline points="43.2,453.96 64.7,507.93 86.2,519.73 107.7,526.7 129.2,527.99 150.7,529.71 172.2,526.49 193.7,529.28 215.2,527.45" stroke="#cf4e38" stroke-width="1.05" fill="none"/>
<path d="M43.2 456.16L45.4 452.09L41 452.09Z" fill="#cf4e38"/>
<path d="M64.7 510.13L66.9 506.06L62.5 506.06Z" fill="#cf4e38"/>
<path d="M86.2 521.93L88.4 517.86L84 517.86Z" fill="#cf4e38"/>
<path d="M107.7 528.9L109.9 524.83L105.5 524.83Z" fill="#cf4e38"/>
<path d="M129.2 530.19L131.4 526.12L127 526.12Z" fill="#cf4e38"/>
<path d="M150.7 531.91L152.9 527.84L148.5 527.84Z" fill="#cf4e38"/>
<path d="M172.2 528.69L174.4 524.62L170 524.62Z" fill="#cf4e38"/>
<path d="M193.7 531.48L195.9 527.41L191.5 527.41Z" fill="#cf4e38"/>
<path d="M215.2 529.65L217.4 525.58L213 525.58Z" fill="#cf4e38"/>
<polyline points="43.2,453.96 64.7,510.5 86.2,519.19 107.7,526.49 129.2,525.95 150.7,527.45 172.2,528.53 193.7,527.99 215.2,527.24" stroke="#e2c83a" stroke-width="1.05" fill="none"/>
<path d="M43.2 451.76L45.4 455.83L41 455.83Z" fill="#e2c83a"/>
<path d="M64.7 508.3L66.9 512.37L62.5 512.37Z" fill="#e2c83a"/>
<path d="M86.2 516.99L88.4 521.06L84 521.06Z" fill="#e2c83a"/>
<path d="M107.7 524.29L109.9 528.36L105.5 528.36Z" fill="#e2c83a"/>
<path d="M129.2 523.75L131.4 527.82L127 527.82Z" fill="#e2c83a"/>
<path d="M150.7 525.25L152.9 529.32L148.5 529.32Z" fill="#e2c83a"/>
<path d="M172.2 526.33L174.4 530.4L170 530.4Z" fill="#e2c83a"/>
<path d="M193.7 525.79L195.9 529.86L191.5 529.86Z" fill="#e2c83a"/>
<path d="M215.2 525.04L217.4 529.11L213 529.11Z" fill="#e2c83a"/>
<polyline points="43.2,453.96 64.7,505.99 86.2,527.99 107.7,539.04 129.2,539.26 150.7,539.47 172.2,539.79 193.7,538.5 215.2,533.46" stroke="#5a86c8" stroke-width="1.05" fill="none"/>
<rect x="41.4" y="452.16" width="3.6" height="3.6" fill="#5a86c8"/>
<rect x="62.9" y="504.19" width="3.6" height="3.6" fill="#5a86c8"/>
<rect x="84.4" y="526.19" width="3.6" height="3.6" fill="#5a86c8"/>
<rect x="105.9" y="537.24" width="3.6" height="3.6" fill="#5a86c8"/>
<rect x="127.4" y="537.46" width="3.6" height="3.6" fill="#5a86c8"/>
<rect x="148.9" y="537.67" width="3.6" height="3.6" fill="#5a86c8"/>
<rect x="170.4" y="537.99" width="3.6" height="3.6" fill="#5a86c8"/>
<rect x="191.9" y="536.7" width="3.6" height="3.6" fill="#5a86c8"/>
<rect x="213.4" y="531.66" width="3.6" height="3.6" fill="#5a86c8"/>
<polyline points="43.2,453.96 64.7,505.24 86.2,519.19 107.7,535.29 129.2,537.97 150.7,536.79 172.2,535.5 193.7,531.74 215.2,527.45" stroke="#8cc865" stroke-width="1.05" fill="none"/>
<circle cx="43.2" cy="453.96" r="1.9" fill="#8cc865"/>
<circle cx="64.7" cy="505.24" r="1.9" fill="#8cc865"/>
<circle cx="86.2" cy="519.19" r="1.9" fill="#8cc865"/>
<circle cx="107.7" cy="535.29" r="1.9" fill="#8cc865"/>
<circle cx="129.2" cy="537.97" r="1.9" fill="#8cc865"/>
<circle cx="150.7" cy="536.79" r="1.9" fill="#8cc865"/>
<circle cx="172.2" cy="535.5" r="1.9" fill="#8cc865"/>
<circle cx="193.7" cy="531.74" r="1.9" fill="#8cc865"/>
<circle cx="215.2" cy="527.45" r="1.9" fill="#8cc865"/>
<text x="232.7" y="405.8" font-size="17" text-anchor="start" font-weight="bold" fill="#000">h</text>
<text transform="translate(353.9 417.9) scale(0.9091 1)" font-size="11.55" text-anchor="middle" font-weight="bold" fill="#000">IgM</text>
<text font-size="9.94" text-anchor="middle" fill="#151515" transform="translate(250.4 497.7) rotate(-90) scale(0.8850 1)">Concentrations (g/L)</text>
<path d="M269.9 435V562.05 M269.35 561.5H438.3" stroke="#4a4a4a" stroke-width="1.1" fill="none"/>
<text transform="translate(264.7 438.05) scale(0.8850 1)" font-size="9.6" text-anchor="end" font-weight="normal" fill="#151515">2.0</text>
<text transform="translate(264.7 469.68) scale(0.8850 1)" font-size="9.6" text-anchor="end" font-weight="normal" fill="#151515">1.5</text>
<text transform="translate(264.7 501.3) scale(0.8850 1)" font-size="9.6" text-anchor="end" font-weight="normal" fill="#151515">1.0</text>
<text transform="translate(264.7 532.92) scale(0.8850 1)" font-size="9.6" text-anchor="end" font-weight="normal" fill="#151515">0.5</text>
<text transform="translate(264.7 564.55) scale(0.8850 1)" font-size="9.6" text-anchor="end" font-weight="normal" fill="#151515">0.0</text>
<text transform="translate(269.9 574.2) scale(0.8850 1)" font-size="9.6" text-anchor="middle" font-weight="normal" fill="#151515">BL</text>
<text transform="translate(290.95 574.2) scale(0.8850 1)" font-size="9.6" text-anchor="middle" font-weight="normal" fill="#151515">15</text>
<text transform="translate(312 574.2) scale(0.8850 1)" font-size="9.6" text-anchor="middle" font-weight="normal" fill="#151515">29</text>
<text transform="translate(333.05 574.2) scale(0.8850 1)" font-size="9.6" text-anchor="middle" font-weight="normal" fill="#151515">43</text>
<text transform="translate(354.1 574.2) scale(0.8850 1)" font-size="9.6" text-anchor="middle" font-weight="normal" fill="#151515">57</text>
<text transform="translate(375.15 574.2) scale(0.8850 1)" font-size="9.6" text-anchor="middle" font-weight="normal" fill="#151515">71</text>
<text transform="translate(396.2 574.2) scale(0.8850 1)" font-size="9.6" text-anchor="middle" font-weight="normal" fill="#151515">85</text>
<text transform="translate(417.25 574.2) scale(0.8850 1)" font-size="9.6" text-anchor="middle" font-weight="normal" fill="#151515">99</text>
<text transform="translate(438.3 574.2) scale(0.8850 1)" font-size="9.6" text-anchor="middle" font-weight="normal" fill="#151515">113</text>
<path d="M266 435H269.9M266 466.62H269.9M266 498.25H269.9M266 529.88H269.9M266 561.5H269.9M269.9 561.5V564.5M290.95 561.5V564.5M312 561.5V564.5M333.05 561.5V564.5M354.1 561.5V564.5M375.15 561.5V564.5M396.2 561.5V564.5M417.25 561.5V564.5M438.3 561.5V564.5" stroke="#4a4a4a" stroke-width="1" fill="none"/>
<text transform="translate(354.25 587.6) scale(0.8850 1)" font-size="9.83" text-anchor="middle" font-weight="normal" fill="#151515">Day</text>
<path d="M354.1 430.2V445.7 M354.1 438H414" stroke="#333" stroke-width="0.9" fill="none"/>
<path d="M418 438L413 436L413 440Z" fill="#222"/>
<text transform="translate(357.4 435.6) scale(0.8850 1)" font-size="9.72" text-anchor="start" font-weight="normal" fill="#151515">Off treatment</text>
<path d="M290.95 487.88V509.88M289.25 487.88H292.65M289.25 509.88H292.65M312 489.88V507.88M310.3 489.88H313.7M310.3 507.88H313.7M333.05 485.24V509.24M331.35 485.24H334.75M331.35 509.24H334.75M354.1 486.25V510.25M352.4 486.25H355.8M352.4 510.25H355.8M375.15 490.49V514.49M373.45 490.49H376.85M373.45 514.49H376.85M396.2 491.57V517.58M394.5 491.57H397.9M394.5 517.58H397.9M417.25 501.51V527.51M415.55 501.51H418.95M415.55 527.51H418.95M438.3 499.73V525.73M436.6 499.73H440M436.6 525.73H440" stroke="#8a8a8a" stroke-width="0.9" fill="none"/>
<path d="M269.9 522.76V528.76M268.2 522.76H271.6M268.2 528.76H271.6M290.95 531.48V535.48M289.25 531.48H292.65M289.25 535.48H292.65M312 530.72V534.72M310.3 530.72H313.7M310.3 534.72H313.7M333.05 531.99V535.99M331.35 531.99H334.75M331.35 535.99H334.75M354.1 532.49V536.49M352.4 532.49H355.8M352.4 536.49H355.8M375.15 533.5V537.5M373.45 533.5H376.85M373.45 537.5H376.85M396.2 532.49V536.49M394.5 532.49H397.9M394.5 536.49H397.9M417.25 531.23V535.23M415.55 531.23H418.95M415.55 535.23H418.95M438.3 531.23V535.23M436.6 531.23H440M436.6 535.23H440" stroke="#de8b7c" stroke-width="0.9" fill="none"/>
<path d="M290.95 482.76V526.76M289.25 482.76H292.65M289.25 526.76H292.65M312 486.5V530.5M310.3 486.5H313.7M310.3 530.5H313.7M333.05 491.53V531.53M331.35 491.53H334.75M331.35 531.53H334.75M354.1 492.23V532.23M352.4 492.23H355.8M352.4 532.23H355.8M375.15 491.72V531.72M373.45 491.72H376.85M373.45 531.72H376.85M396.2 492.23V532.23M394.5 492.23H397.9M394.5 532.23H397.9M417.25 487.03V535.03M415.55 487.03H418.95M415.55 535.03H418.95M438.3 486.75V530.75M436.6 486.75H440M436.6 530.75H440" stroke="#ecd878" stroke-width="0.9" fill="none"/>
<path d="M269.9 522.52V530.52M268.2 522.52H271.6M268.2 530.52H271.6M290.95 524.72V530.72M289.25 524.72H292.65M289.25 530.72H292.65M312 534.2V538.2M310.3 534.2H313.7M310.3 538.2H313.7M333.05 534.2V538.2M331.35 534.2H334.75M331.35 538.2H334.75M354.1 532.49V536.49M352.4 532.49H355.8M352.4 536.49H355.8M375.15 533.5V537.5M373.45 533.5H376.85M373.45 537.5H376.85M396.2 534.01V538.01M394.5 534.01H397.9M394.5 538.01H397.9M417.25 534.2V538.2M415.55 534.2H418.95M415.55 538.2H418.95M438.3 533.5V537.5M436.6 533.5H440M436.6 537.5H440" stroke="#8faad8" stroke-width="0.9" fill="none"/>
<path d="M269.9 493.27V517.27M268.2 493.27H271.6M268.2 517.27H271.6M290.95 508.28V524.28M289.25 508.28H292.65M289.25 524.28H292.65M312 511.5V527.5M310.3 511.5H313.7M310.3 527.5H313.7M333.05 521.28V533.28M331.35 521.28H334.75M331.35 533.28H334.75M354.1 521.28V533.28M352.4 521.28H355.8M352.4 533.28H355.8M375.15 521.28V533.28M373.45 521.28H376.85M373.45 533.28H376.85M396.2 520.27V532.27M394.5 520.27H397.9M394.5 532.27H397.9M417.25 438.29V522.79M415.55 438.29H418.95M415.55 522.79H418.95M438.3 510.26V530.26M436.6 510.26H440M436.6 530.26H440" stroke="#a9d68b" stroke-width="0.9" fill="none"/>
<polyline points="269.9,508.75 290.95,498.88 312,498.88 333.05,497.24 354.1,498.25 375.15,502.49 396.2,504.57 417.25,514.51 438.3,512.73" stroke="#5a5a5a" stroke-width="1.05" fill="none" stroke-dasharray="2.6 1.8"/>
<path d="M269.9 506.75L271.9 508.75L269.9 510.75L267.9 508.75Z" fill="#5a5a5a"/>
<path d="M290.95 496.88L292.95 498.88L290.95 500.88L288.95 498.88Z" fill="#5a5a5a"/>
<path d="M312 496.88L314 498.88L312 500.88L310 498.88Z" fill="#5a5a5a"/>
<path d="M333.05 495.24L335.05 497.24L333.05 499.24L331.05 497.24Z" fill="#5a5a5a"/>
<path d="M354.1 496.25L356.1 498.25L354.1 500.25L352.1 498.25Z" fill="#5a5a5a"/>
<path d="M375.15 500.49L377.15 502.49L375.15 504.49L373.15 502.49Z" fill="#5a5a5a"/>
<path d="M396.2 502.57L398.2 504.57L396.2 506.57L394.2 504.57Z" fill="#5a5a5a"/>
<path d="M417.25 512.51L419.25 514.51L417.25 516.51L415.25 514.51Z" fill="#5a5a5a"/>
<path d="M438.3 510.73L440.3 512.73L438.3 514.73L436.3 512.73Z" fill="#5a5a5a"/>
<polyline points="269.9,525.76 290.95,533.48 312,532.72 333.05,533.99 354.1,534.49 375.15,535.5 396.2,534.49 417.25,533.23 438.3,533.23" stroke="#cf4e38" stroke-width="1.05" fill="none"/>
<path d="M269.9 527.96L272.1 523.89L267.7 523.89Z" fill="#cf4e38"/>
<path d="M290.95 535.68L293.15 531.61L288.75 531.61Z" fill="#cf4e38"/>
<path d="M312 534.92L314.2 530.85L309.8 530.85Z" fill="#cf4e38"/>
<path d="M333.05 536.19L335.25 532.12L330.85 532.12Z" fill="#cf4e38"/>
<path d="M354.1 536.69L356.3 532.62L351.9 532.62Z" fill="#cf4e38"/>
<path d="M375.15 537.7L377.35 533.63L372.95 533.63Z" fill="#cf4e38"/>
<path d="M396.2 536.69L398.4 532.62L394 532.62Z" fill="#cf4e38"/>
<path d="M417.25 535.43L419.45 531.36L415.05 531.36Z" fill="#cf4e38"/>
<path d="M438.3 535.43L440.5 531.36L436.1 531.36Z" fill="#cf4e38"/>
<polyline points="269.9,513.49 290.95,504.76 312,508.5 333.05,511.53 354.1,512.23 375.15,511.72 396.2,512.23 417.25,511.03 438.3,508.75" stroke="#e2c83a" stroke-width="1.05" fill="none"/>
<path d="M269.9 511.29L272.1 515.36L267.7 515.36Z" fill="#e2c83a"/>
<path d="M290.95 502.56L293.15 506.63L288.75 506.63Z" fill="#e2c83a"/>
<path d="M312 506.3L314.2 510.37L309.8 510.37Z" fill="#e2c83a"/>
<path d="M333.05 509.33L335.25 513.4L330.85 513.4Z" fill="#e2c83a"/>
<path d="M354.1 510.03L356.3 514.1L351.9 514.1Z" fill="#e2c83a"/>
<path d="M375.15 509.52L377.35 513.59L372.95 513.59Z" fill="#e2c83a"/>
<path d="M396.2 510.03L398.4 514.1L394 514.1Z" fill="#e2c83a"/>
<path d="M417.25 508.83L419.45 512.9L415.05 512.9Z" fill="#e2c83a"/>
<path d="M438.3 506.55L440.5 510.62L436.1 510.62Z" fill="#e2c83a"/>
<polyline points="269.9,526.52 290.95,527.72 312,536.2 333.05,536.2 354.1,534.49 375.15,535.5 396.2,536.01 417.25,536.2 438.3,535.5" stroke="#5a86c8" stroke-width="1.05" fill="none"/>
<rect x="268.1" y="524.72" width="3.6" height="3.6" fill="#5a86c8"/>
<rect x="289.15" y="525.92" width="3.6" height="3.6" fill="#5a86c8"/>
<rect x="310.2" y="534.4" width="3.6" height="3.6" fill="#5a86c8"/>
<rect x="331.25" y="534.4" width="3.6" height="3.6" fill="#5a86c8"/>
<rect x="352.3" y="532.69" width="3.6" height="3.6" fill="#5a86c8"/>
<rect x="373.35" y="533.7" width="3.6" height="3.6" fill="#5a86c8"/>
<rect x="394.4" y="534.21" width="3.6" height="3.6" fill="#5a86c8"/>
<rect x="415.45" y="534.4" width="3.6" height="3.6" fill="#5a86c8"/>
<rect x="436.5" y="533.7" width="3.6" height="3.6" fill="#5a86c8"/>
<polyline points="269.9,505.27 290.95,516.28 312,519.5 333.05,527.28 354.1,527.28 375.15,527.28 396.2,526.27 417.25,480.54 438.3,520.26" stroke="#8cc865" stroke-width="1.05" fill="none"/>
<circle cx="269.9" cy="505.27" r="1.9" fill="#8cc865"/>
<circle cx="290.95" cy="516.28" r="1.9" fill="#8cc865"/>
<circle cx="312" cy="519.5" r="1.9" fill="#8cc865"/>
<circle cx="333.05" cy="527.28" r="1.9" fill="#8cc865"/>
<circle cx="354.1" cy="527.28" r="1.9" fill="#8cc865"/>
<circle cx="375.15" cy="527.28" r="1.9" fill="#8cc865"/>
<circle cx="396.2" cy="526.27" r="1.9" fill="#8cc865"/>
<circle cx="417.25" cy="480.54" r="1.9" fill="#8cc865"/>
<circle cx="438.3" cy="520.26" r="1.9" fill="#8cc865"/>
<text x="466.5" y="405.8" font-size="17" text-anchor="start" font-weight="bold" fill="#000">i</text>
<text transform="translate(591.4 415.2) scale(0.9091 1)" font-size="11.55" text-anchor="middle" font-weight="bold" fill="#000">IgM</text>
<text font-size="9.94" text-anchor="middle" fill="#151515" transform="translate(483.2 495.8) rotate(-90) scale(0.8850 1)">Mean percentage change from baseline (%)</text>
<path d="M505.56 432.75V561.8 M505.01 561.25H677.5" stroke="#4a4a4a" stroke-width="1.1" fill="none"/>
<text transform="translate(500.36 435.8) scale(0.8850 1)" font-size="9.6" text-anchor="end" font-weight="normal" fill="#151515">120</text>
<text transform="translate(500.36 457.22) scale(0.8850 1)" font-size="9.6" text-anchor="end" font-weight="normal" fill="#151515">90</text>
<text transform="translate(500.36 478.63) scale(0.8850 1)" font-size="9.6" text-anchor="end" font-weight="normal" fill="#151515">60</text>
<text transform="translate(500.36 500.05) scale(0.8850 1)" font-size="9.6" text-anchor="end" font-weight="normal" fill="#151515">30</text>
<text transform="translate(500.36 521.47) scale(0.8850 1)" font-size="9.6" text-anchor="end" font-weight="normal" fill="#151515">0</text>
<text transform="translate(500.36 542.88) scale(0.8850 1)" font-size="9.6" text-anchor="end" font-weight="normal" fill="#151515">-30</text>
<text transform="translate(500.36 564.3) scale(0.8850 1)" font-size="9.6" text-anchor="end" font-weight="normal" fill="#151515">-60</text>
<text transform="translate(505.56 574.2) scale(0.8850 1)" font-size="9.6" text-anchor="middle" font-weight="normal" fill="#151515">BL</text>
<text transform="translate(527.05 574.2) scale(0.8850 1)" font-size="9.6" text-anchor="middle" font-weight="normal" fill="#151515">15</text>
<text transform="translate(548.54 574.2) scale(0.8850 1)" font-size="9.6" text-anchor="middle" font-weight="normal" fill="#151515">29</text>
<text transform="translate(570.04 574.2) scale(0.8850 1)" font-size="9.6" text-anchor="middle" font-weight="normal" fill="#151515">43</text>
<text transform="translate(591.53 574.2) scale(0.8850 1)" font-size="9.6" text-anchor="middle" font-weight="normal" fill="#151515">57</text>
<text transform="translate(613.02 574.2) scale(0.8850 1)" font-size="9.6" text-anchor="middle" font-weight="normal" fill="#151515">71</text>
<text transform="translate(634.51 574.2) scale(0.8850 1)" font-size="9.6" text-anchor="middle" font-weight="normal" fill="#151515">85</text>
<text transform="translate(656.01 574.2) scale(0.8850 1)" font-size="9.6" text-anchor="middle" font-weight="normal" fill="#151515">99</text>
<text transform="translate(677.5 574.2) scale(0.8850 1)" font-size="9.6" text-anchor="middle" font-weight="normal" fill="#151515">113</text>
<path d="M501.66 432.75H505.56M501.66 454.17H505.56M501.66 475.58H505.56M501.66 497H505.56M501.66 518.42H505.56M501.66 539.83H505.56M501.66 561.25H505.56M505.56 561.25V564.25M527.05 561.25V564.25M548.54 561.25V564.25M570.04 561.25V564.25M591.53 561.25V564.25M613.02 561.25V564.25M634.51 561.25V564.25M656.01 561.25V564.25M677.5 561.25V564.25" stroke="#4a4a4a" stroke-width="1" fill="none"/>
<text transform="translate(591.6 587.6) scale(0.8850 1)" font-size="9.83" text-anchor="middle" font-weight="normal" fill="#151515">Day</text>
<path d="M591.53 427.5V443.7 M591.53 435.5H653" stroke="#333" stroke-width="0.9" fill="none"/>
<path d="M657 435.5L652 433.5L652 437.5Z" fill="#222"/>
<text transform="translate(594.83 433.2) scale(0.8850 1)" font-size="9.72" text-anchor="start" font-weight="normal" fill="#151515">Off treatment</text>
<path d="M527.05 501.64V509.64M525.35 501.64H528.75M525.35 509.64H528.75M548.54 474.68V514.18M546.84 474.68H550.25M546.84 514.18H550.25M570.04 474.18V515.68M568.34 474.18H571.74M568.34 515.68H571.74M591.53 458.15V521.15M589.83 458.15H593.23M589.83 521.15H593.23M613.02 462.43V520.43M611.32 462.43H614.72M611.32 520.43H614.72M634.51 468.18V524.68M632.81 468.18H636.22M632.81 524.68H636.22M656.01 513.7V529.7M654.31 513.7H657.71M654.31 529.7H657.71M677.5 517.7V525.7M675.8 517.7H679.2M675.8 525.7H679.2" stroke="#8a8a8a" stroke-width="0.9" fill="none"/>
<path d="M527.05 525.7V535.7M525.35 525.7H528.75M525.35 535.7H528.75M548.54 525.91V533.91M546.84 525.91H550.25M546.84 533.91H550.25M570.04 528.41V536.41M568.34 528.41H571.74M568.34 536.41H571.74M591.53 528.41V536.41M589.83 528.41H593.23M589.83 536.41H593.23M613.02 529.41V537.41M611.32 529.41H614.72M611.32 537.41H614.72M634.51 531.41V537.41M632.81 531.41H636.22M632.81 537.41H636.22M656.01 527.2V535.2M654.31 527.2H657.71M654.31 535.2H657.71M677.5 527.2V535.2M675.8 527.2H679.2M675.8 535.2H679.2" stroke="#de8b7c" stroke-width="0.9" fill="none"/>
<path d="M527.05 510.63V518.63M525.35 510.63H528.75M525.35 518.63H528.75M548.54 507.2V533.2M546.84 507.2H550.25M546.84 533.2H550.25M570.04 510.2V534.2M568.34 510.2H571.74M568.34 534.2H571.74M591.53 510.2V534.2M589.83 510.2H593.23M589.83 534.2H593.23M613.02 510.2V534.2M611.32 510.2H614.72M611.32 534.2H614.72M634.51 513.41V531.41M632.81 513.41H636.22M632.81 531.41H636.22M656.01 509.41V533.41M654.31 509.41H657.71M654.31 533.41H657.71M677.5 507.92V531.92M675.8 507.92H679.2M675.8 531.92H679.2" stroke="#ecd878" stroke-width="0.9" fill="none"/>
<path d="M527.05 518.91V524.91M525.35 518.91H528.75M525.35 524.91H528.75M548.54 523.2V531.2M546.84 523.2H550.25M546.84 531.2H550.25M570.04 524.2V530.2M568.34 524.2H571.74M568.34 530.2H571.74M591.53 521.41V527.41M589.83 521.41H593.23M589.83 527.41H593.23M613.02 522.41V528.41M611.32 522.41H614.72M611.32 528.41H614.72M634.51 524.2V530.2M632.81 524.2H636.22M632.81 530.2H636.22M656.01 524.2V530.2M654.31 524.2H657.71M654.31 530.2H657.71M677.5 522.7V528.7M675.8 522.7H679.2M675.8 528.7H679.2" stroke="#8faad8" stroke-width="0.9" fill="none"/>
<path d="M527.05 526.2V534.2M525.35 526.2H528.75M525.35 534.2H528.75M548.54 530.19V540.19M546.84 530.19H550.25M546.84 540.19H550.25M570.04 536.69V548.69M568.34 536.69H571.74M568.34 548.69H571.74M591.53 534.9V546.9M589.83 534.9H593.23M589.83 546.9H593.23M613.02 537.4V547.4M611.32 537.4H614.72M611.32 547.4H614.72M634.51 536.19V546.19M632.81 536.19H636.22M632.81 546.19H636.22M656.01 443.18V538.68M654.31 443.18H657.71M654.31 538.68H657.71M677.5 530.19V540.19M675.8 530.19H679.2M675.8 540.19H679.2" stroke="#a9d68b" stroke-width="0.9" fill="none"/>
<polyline points="505.56,518.42 527.05,505.64 548.54,494.43 570.04,494.93 591.53,489.65 613.02,491.43 634.51,496.43 656.01,521.7 677.5,521.7" stroke="#5a5a5a" stroke-width="1.05" fill="none" stroke-dasharray="2.6 1.8"/>
<path d="M505.56 516.42L507.56 518.42L505.56 520.42L503.56 518.42Z" fill="#5a5a5a"/>
<path d="M527.05 503.64L529.05 505.64L527.05 507.64L525.05 505.64Z" fill="#5a5a5a"/>
<path d="M548.54 492.43L550.54 494.43L548.54 496.43L546.54 494.43Z" fill="#5a5a5a"/>
<path d="M570.04 492.93L572.04 494.93L570.04 496.93L568.04 494.93Z" fill="#5a5a5a"/>
<path d="M591.53 487.65L593.53 489.65L591.53 491.65L589.53 489.65Z" fill="#5a5a5a"/>
<path d="M613.02 489.43L615.02 491.43L613.02 493.43L611.02 491.43Z" fill="#5a5a5a"/>
<path d="M634.51 494.43L636.51 496.43L634.51 498.43L632.51 496.43Z" fill="#5a5a5a"/>
<path d="M656.01 519.7L658.01 521.7L656.01 523.7L654.01 521.7Z" fill="#5a5a5a"/>
<path d="M677.5 519.7L679.5 521.7L677.5 523.7L675.5 521.7Z" fill="#5a5a5a"/>
<polyline points="505.56,518.42 527.05,530.7 548.54,529.91 570.04,532.41 591.53,532.41 613.02,533.41 634.51,534.41 656.01,531.2 677.5,531.2" stroke="#cf4e38" stroke-width="1.05" fill="none"/>
<path d="M505.56 520.62L507.76 516.55L503.36 516.55Z" fill="#cf4e38"/>
<path d="M527.05 532.9L529.25 528.83L524.85 528.83Z" fill="#cf4e38"/>
<path d="M548.54 532.11L550.75 528.04L546.34 528.04Z" fill="#cf4e38"/>
<path d="M570.04 534.61L572.24 530.54L567.84 530.54Z" fill="#cf4e38"/>
<path d="M591.53 534.61L593.73 530.54L589.33 530.54Z" fill="#cf4e38"/>
<path d="M613.02 535.61L615.22 531.54L610.82 531.54Z" fill="#cf4e38"/>
<path d="M634.51 536.61L636.72 532.54L632.31 532.54Z" fill="#cf4e38"/>
<path d="M656.01 533.4L658.21 529.33L653.81 529.33Z" fill="#cf4e38"/>
<path d="M677.5 533.4L679.7 529.33L675.3 529.33Z" fill="#cf4e38"/>
<polyline points="505.56,518.42 527.05,514.63 548.54,520.2 570.04,522.2 591.53,522.2 613.02,522.2 634.51,522.41 656.01,521.41 677.5,519.92" stroke="#e2c83a" stroke-width="1.05" fill="none"/>
<path d="M505.56 516.22L507.76 520.29L503.36 520.29Z" fill="#e2c83a"/>
<path d="M527.05 512.43L529.25 516.5L524.85 516.5Z" fill="#e2c83a"/>
<path d="M548.54 518L550.75 522.07L546.34 522.07Z" fill="#e2c83a"/>
<path d="M570.04 520L572.24 524.07L567.84 524.07Z" fill="#e2c83a"/>
<path d="M591.53 520L593.73 524.07L589.33 524.07Z" fill="#e2c83a"/>
<path d="M613.02 520L615.22 524.07L610.82 524.07Z" fill="#e2c83a"/>
<path d="M634.51 520.21L636.72 524.28L632.31 524.28Z" fill="#e2c83a"/>
<path d="M656.01 519.21L658.21 523.28L653.81 523.28Z" fill="#e2c83a"/>
<path d="M677.5 517.72L679.7 521.79L675.3 521.79Z" fill="#e2c83a"/>
<polyline points="505.56,518.42 527.05,521.91 548.54,527.2 570.04,527.2 591.53,524.41 613.02,525.41 634.51,527.2 656.01,527.2 677.5,525.7" stroke="#5a86c8" stroke-width="1.05" fill="none"/>
<rect x="503.76" y="516.62" width="3.6" height="3.6" fill="#5a86c8"/>
<rect x="525.25" y="520.11" width="3.6" height="3.6" fill="#5a86c8"/>
<rect x="546.75" y="525.4" width="3.6" height="3.6" fill="#5a86c8"/>
<rect x="568.24" y="525.4" width="3.6" height="3.6" fill="#5a86c8"/>
<rect x="589.73" y="522.61" width="3.6" height="3.6" fill="#5a86c8"/>
<rect x="611.22" y="523.61" width="3.6" height="3.6" fill="#5a86c8"/>
<rect x="632.72" y="525.4" width="3.6" height="3.6" fill="#5a86c8"/>
<rect x="654.21" y="525.4" width="3.6" height="3.6" fill="#5a86c8"/>
<rect x="675.7" y="523.9" width="3.6" height="3.6" fill="#5a86c8"/>
<polyline points="505.56,518.42 527.05,530.2 548.54,535.19 570.04,542.69 591.53,540.9 613.02,542.4 634.51,541.19 656.01,490.93 677.5,535.19" stroke="#8cc865" stroke-width="1.05" fill="none"/>
<circle cx="505.56" cy="518.42" r="1.9" fill="#8cc865"/>
<circle cx="527.05" cy="530.2" r="1.9" fill="#8cc865"/>
<circle cx="548.54" cy="535.19" r="1.9" fill="#8cc865"/>
<circle cx="570.04" cy="542.69" r="1.9" fill="#8cc865"/>
<circle cx="591.53" cy="540.9" r="1.9" fill="#8cc865"/>
<circle cx="613.02" cy="542.4" r="1.9" fill="#8cc865"/>
<circle cx="634.51" cy="541.19" r="1.9" fill="#8cc865"/>
<circle cx="656.01" cy="490.93" r="1.9" fill="#8cc865"/>
<circle cx="677.5" cy="535.19" r="1.9" fill="#8cc865"/>
<text x="1.8" y="616.8" font-size="17" text-anchor="start" font-weight="bold" fill="#000">j</text>
<text transform="translate(129.1 613.9) scale(0.9091 1)" font-size="11.55" text-anchor="middle" font-weight="bold" fill="#000">IgE</text>
<text font-size="9.94" text-anchor="middle" fill="#151515" transform="translate(20.7 694.95) rotate(-90) scale(0.8850 1)">Concentrations (IU/mL)</text>
<path d="M43.2 631.5V760.8 M42.65 760.25H215.2" stroke="#4a4a4a" stroke-width="1.1" fill="none"/>
<text transform="translate(38 634.55) scale(0.8850 1)" font-size="9.6" text-anchor="end" font-weight="normal" fill="#151515">400</text>
<text transform="translate(38 666.74) scale(0.8850 1)" font-size="9.6" text-anchor="end" font-weight="normal" fill="#151515">300</text>
<text transform="translate(38 698.92) scale(0.8850 1)" font-size="9.6" text-anchor="end" font-weight="normal" fill="#151515">200</text>
<text transform="translate(38 731.11) scale(0.8850 1)" font-size="9.6" text-anchor="end" font-weight="normal" fill="#151515">100</text>
<text transform="translate(38 763.3) scale(0.8850 1)" font-size="9.6" text-anchor="end" font-weight="normal" fill="#151515">0</text>
<text transform="translate(43.2 772.7) scale(0.8850 1)" font-size="9.6" text-anchor="middle" font-weight="normal" fill="#151515">BL</text>
<text transform="translate(64.7 772.7) scale(0.8850 1)" font-size="9.6" text-anchor="middle" font-weight="normal" fill="#151515">15</text>
<text transform="translate(86.2 772.7) scale(0.8850 1)" font-size="9.6" text-anchor="middle" font-weight="normal" fill="#151515">29</text>
<text transform="translate(107.7 772.7) scale(0.8850 1)" font-size="9.6" text-anchor="middle" font-weight="normal" fill="#151515">43</text>
<text transform="translate(129.2 772.7) scale(0.8850 1)" font-size="9.6" text-anchor="middle" font-weight="normal" fill="#151515">57</text>
<text transform="translate(150.7 772.7) scale(0.8850 1)" font-size="9.6" text-anchor="middle" font-weight="normal" fill="#151515">71</text>
<text transform="translate(172.2 772.7) scale(0.8850 1)" font-size="9.6" text-anchor="middle" font-weight="normal" fill="#151515">85</text>
<text transform="translate(193.7 772.7) scale(0.8850 1)" font-size="9.6" text-anchor="middle" font-weight="normal" fill="#151515">99</text>
<text transform="translate(215.2 772.7) scale(0.8850 1)" font-size="9.6" text-anchor="middle" font-weight="normal" fill="#151515">113</text>
<path d="M39.3 631.5H43.2M39.3 663.69H43.2M39.3 695.88H43.2M39.3 728.06H43.2M39.3 760.25H43.2M43.2 760.25V763.25M64.7 760.25V763.25M86.2 760.25V763.25M107.7 760.25V763.25M129.2 760.25V763.25M150.7 760.25V763.25M172.2 760.25V763.25M193.7 760.25V763.25M215.2 760.25V763.25" stroke="#4a4a4a" stroke-width="1" fill="none"/>
<text transform="translate(129.6 786.3) scale(0.8850 1)" font-size="9.83" text-anchor="middle" font-weight="normal" fill="#151515">Day</text>
<path d="M129.2 620.2V636.3 M129.2 628.5H190.5" stroke="#333" stroke-width="0.9" fill="none"/>
<path d="M194.5 628.5L189.5 626.5L189.5 630.5Z" fill="#222"/>
<text transform="translate(132.5 625.8) scale(0.8850 1)" font-size="9.72" text-anchor="start" font-weight="normal" fill="#151515">Off treatment</text>
<path d="M43.2 656.59V732.59M41.5 656.59H44.9M41.5 732.59H44.9M64.7 648.69V730.19M63 648.69H66.4M63 730.19H66.4M86.2 660V734M84.5 660H87.9M84.5 734H87.9M107.7 652.5V733M106 652.5H109.4M106 733H109.4M129.2 639.5V731M127.5 639.5H130.9M127.5 731H130.9M150.7 657.51V735.01M149 657.51H152.4M149 735.01H152.4M172.2 656.48V733.98M170.5 656.48H173.9M170.5 733.98H173.9M193.7 657.77V735.27M192 657.77H195.4M192 735.27H195.4M215.2 649.51V734.51M213.5 649.51H216.9M213.5 734.51H216.9" stroke="#8a8a8a" stroke-width="0.9" fill="none"/>
<path d="M43.2 632.25V738.25M41.5 632.25H44.9M41.5 738.25H44.9M64.7 693.8V748.8M63 693.8H66.4M63 748.8H66.4M86.2 703.51V749.01M84.5 703.51H87.9M84.5 749.01H87.9M107.7 719.51V750.01M106 719.51H109.4M106 750.01H109.4M129.2 716.26V751.26M127.5 716.26H130.9M127.5 751.26H130.9M150.7 727.48V755.48M149 727.48H152.4M149 755.48H152.4M172.2 724.01V754.01M170.5 724.01H173.9M170.5 754.01H173.9M193.7 731.74V751.74M192 731.74H195.4M192 751.74H195.4M215.2 731.48V751.48M213.5 731.48H216.9M213.5 751.48H216.9" stroke="#de8b7c" stroke-width="0.9" fill="none"/>
<path d="M43.2 703.23V743.23M41.5 703.23H44.9M41.5 743.23H44.9M64.7 742.25V752.25M63 742.25H66.4M63 752.25H66.4M86.2 745.5V751.5M84.5 745.5H87.9M84.5 751.5H87.9M107.7 746.24V752.24M106 746.24H109.4M106 752.24H109.4M129.2 745.76V751.76M127.5 745.76H130.9M127.5 751.76H130.9M150.7 747.5V753.5M149 747.5H152.4M149 753.5H152.4M172.2 748.5V754.5M170.5 748.5H173.9M170.5 754.5H173.9M193.7 748.01V754.01M192 748.01H195.4M192 754.01H195.4M215.2 749.01V755.01M213.5 749.01H216.9M213.5 755.01H216.9" stroke="#ecd878" stroke-width="0.9" fill="none"/>
<path d="M43.2 732.29V748.29M41.5 732.29H44.9M41.5 748.29H44.9M64.7 747.24V751.24M63 747.24H66.4M63 751.24H66.4M86.2 716.76V750.76M84.5 716.76H87.9M84.5 750.76H87.9M107.7 745.76V751.76M106 745.76H109.4M106 751.76H109.4M129.2 749.75V753.75M127.5 749.75H130.9M127.5 753.75H130.9M150.7 750.24V754.24M149 750.24H152.4M149 754.24H152.4M172.2 750.24V754.24M170.5 750.24H173.9M170.5 754.24H173.9M193.7 749.5V753.5M192 749.5H195.4M192 753.5H195.4M215.2 749.01V753.01M213.5 749.01H216.9M213.5 753.01H216.9" stroke="#8faad8" stroke-width="0.9" fill="none"/>
<path d="M43.2 631.85V723.85M41.5 631.85H44.9M41.5 723.85H44.9M64.7 682.04V747.04M63 682.04H66.4M63 747.04H66.4M86.2 692.12V751.12M84.5 692.12H87.9M84.5 751.12H87.9M107.7 709.85V753.35M106 709.85H109.4M106 753.35H109.4M129.2 707.52V752.02M127.5 707.52H130.9M127.5 752.02H130.9M150.7 709.77V751.77M149 709.77H152.4M149 751.77H152.4M172.2 710.99V750.99M170.5 710.99H173.9M170.5 750.99H173.9M193.7 711.28V751.28M192 711.28H195.4M192 751.28H195.4M215.2 705.26V749.26M213.5 705.26H216.9M213.5 749.26H216.9" stroke="#a9d68b" stroke-width="0.9" fill="none"/>
<polyline points="43.2,694.59 64.7,689.44 86.2,697 107.7,692.75 129.2,685.25 150.7,696.26 172.2,695.23 193.7,696.52 215.2,692.01" stroke="#5a5a5a" stroke-width="1.05" fill="none" stroke-dasharray="2.6 1.8"/>
<path d="M43.2 692.59L45.2 694.59L43.2 696.59L41.2 694.59Z" fill="#5a5a5a"/>
<path d="M64.7 687.44L66.7 689.44L64.7 691.44L62.7 689.44Z" fill="#5a5a5a"/>
<path d="M86.2 695L88.2 697L86.2 699L84.2 697Z" fill="#5a5a5a"/>
<path d="M107.7 690.75L109.7 692.75L107.7 694.75L105.7 692.75Z" fill="#5a5a5a"/>
<path d="M129.2 683.25L131.2 685.25L129.2 687.25L127.2 685.25Z" fill="#5a5a5a"/>
<path d="M150.7 694.26L152.7 696.26L150.7 698.26L148.7 696.26Z" fill="#5a5a5a"/>
<path d="M172.2 693.23L174.2 695.23L172.2 697.23L170.2 695.23Z" fill="#5a5a5a"/>
<path d="M193.7 694.52L195.7 696.52L193.7 698.52L191.7 696.52Z" fill="#5a5a5a"/>
<path d="M215.2 690.01L217.2 692.01L215.2 694.01L213.2 692.01Z" fill="#5a5a5a"/>
<polyline points="43.2,685.25 64.7,721.3 86.2,726.26 107.7,734.76 129.2,733.76 150.7,741.48 172.2,739.01 193.7,741.74 215.2,741.48" stroke="#cf4e38" stroke-width="1.05" fill="none"/>
<path d="M43.2 687.45L45.4 683.38L41 683.38Z" fill="#cf4e38"/>
<path d="M64.7 723.5L66.9 719.43L62.5 719.43Z" fill="#cf4e38"/>
<path d="M86.2 728.46L88.4 724.39L84 724.39Z" fill="#cf4e38"/>
<path d="M107.7 736.96L109.9 732.89L105.5 732.89Z" fill="#cf4e38"/>
<path d="M129.2 735.96L131.4 731.89L127 731.89Z" fill="#cf4e38"/>
<path d="M150.7 743.68L152.9 739.61L148.5 739.61Z" fill="#cf4e38"/>
<path d="M172.2 741.21L174.4 737.14L170 737.14Z" fill="#cf4e38"/>
<path d="M193.7 743.94L195.9 739.87L191.5 739.87Z" fill="#cf4e38"/>
<path d="M215.2 743.68L217.4 739.61L213 739.61Z" fill="#cf4e38"/>
<polyline points="43.2,723.23 64.7,747.25 86.2,748.5 107.7,749.24 129.2,748.76 150.7,750.5 172.2,751.5 193.7,751.01 215.2,752.01" stroke="#e2c83a" stroke-width="1.05" fill="none"/>
<path d="M43.2 721.03L45.4 725.1L41 725.1Z" fill="#e2c83a"/>
<path d="M64.7 745.05L66.9 749.12L62.5 749.12Z" fill="#e2c83a"/>
<path d="M86.2 746.3L88.4 750.37L84 750.37Z" fill="#e2c83a"/>
<path d="M107.7 747.04L109.9 751.11L105.5 751.11Z" fill="#e2c83a"/>
<path d="M129.2 746.56L131.4 750.63L127 750.63Z" fill="#e2c83a"/>
<path d="M150.7 748.3L152.9 752.37L148.5 752.37Z" fill="#e2c83a"/>
<path d="M172.2 749.29L174.4 753.37L170 753.37Z" fill="#e2c83a"/>
<path d="M193.7 748.81L195.9 752.88L191.5 752.88Z" fill="#e2c83a"/>
<path d="M215.2 749.81L217.4 753.88L213 753.88Z" fill="#e2c83a"/>
<polyline points="43.2,740.29 64.7,749.24 86.2,733.76 107.7,748.76 129.2,751.75 150.7,752.24 172.2,752.24 193.7,751.5 215.2,751.01" stroke="#5a86c8" stroke-width="1.05" fill="none"/>
<rect x="41.4" y="738.49" width="3.6" height="3.6" fill="#5a86c8"/>
<rect x="62.9" y="747.44" width="3.6" height="3.6" fill="#5a86c8"/>
<rect x="84.4" y="731.96" width="3.6" height="3.6" fill="#5a86c8"/>
<rect x="105.9" y="746.96" width="3.6" height="3.6" fill="#5a86c8"/>
<rect x="127.4" y="749.95" width="3.6" height="3.6" fill="#5a86c8"/>
<rect x="148.9" y="750.44" width="3.6" height="3.6" fill="#5a86c8"/>
<rect x="170.4" y="750.44" width="3.6" height="3.6" fill="#5a86c8"/>
<rect x="191.9" y="749.7" width="3.6" height="3.6" fill="#5a86c8"/>
<rect x="213.4" y="749.21" width="3.6" height="3.6" fill="#5a86c8"/>
<polyline points="43.2,677.85 64.7,714.54 86.2,721.62 107.7,731.6 129.2,729.77 150.7,730.77 172.2,730.99 193.7,731.28 215.2,727.26" stroke="#8cc865" stroke-width="1.05" fill="none"/>
<circle cx="43.2" cy="677.85" r="1.9" fill="#8cc865"/>
<circle cx="64.7" cy="714.54" r="1.9" fill="#8cc865"/>
<circle cx="86.2" cy="721.62" r="1.9" fill="#8cc865"/>
<circle cx="107.7" cy="731.6" r="1.9" fill="#8cc865"/>
<circle cx="129.2" cy="729.77" r="1.9" fill="#8cc865"/>
<circle cx="150.7" cy="730.77" r="1.9" fill="#8cc865"/>
<circle cx="172.2" cy="730.99" r="1.9" fill="#8cc865"/>
<circle cx="193.7" cy="731.28" r="1.9" fill="#8cc865"/>
<circle cx="215.2" cy="727.26" r="1.9" fill="#8cc865"/>
<text x="233.5" y="617" font-size="17" text-anchor="start" font-weight="bold" fill="#000">k</text>
<text transform="translate(367.4 615.4) scale(0.9091 1)" font-size="11.55" text-anchor="middle" font-weight="bold" fill="#000">IgE</text>
<text font-size="8.67" text-anchor="middle" fill="#151515" transform="translate(256.7 694.85) rotate(-90) scale(1.0000 1)">Mean percentage change from baseline (%)</text>
<path d="M282.56 632.5V760.55 M282.01 760H453" stroke="#4a4a4a" stroke-width="1.1" fill="none"/>
<text transform="translate(277.36 635.55) scale(0.8850 1)" font-size="9.6" text-anchor="end" font-weight="normal" fill="#151515">300</text>
<text transform="translate(277.36 667.42) scale(0.8850 1)" font-size="9.6" text-anchor="end" font-weight="normal" fill="#151515">200</text>
<text transform="translate(277.36 699.3) scale(0.8850 1)" font-size="9.6" text-anchor="end" font-weight="normal" fill="#151515">100</text>
<text transform="translate(277.36 731.17) scale(0.8850 1)" font-size="9.6" text-anchor="end" font-weight="normal" fill="#151515">0</text>
<text transform="translate(277.36 763.05) scale(0.8850 1)" font-size="9.6" text-anchor="end" font-weight="normal" fill="#151515">-100</text>
<text transform="translate(282.56 772.7) scale(0.8850 1)" font-size="9.6" text-anchor="middle" font-weight="normal" fill="#151515">BL</text>
<text transform="translate(303.87 772.7) scale(0.8850 1)" font-size="9.6" text-anchor="middle" font-weight="normal" fill="#151515">15</text>
<text transform="translate(325.17 772.7) scale(0.8850 1)" font-size="9.6" text-anchor="middle" font-weight="normal" fill="#151515">29</text>
<text transform="translate(346.48 772.7) scale(0.8850 1)" font-size="9.6" text-anchor="middle" font-weight="normal" fill="#151515">43</text>
<text transform="translate(367.78 772.7) scale(0.8850 1)" font-size="9.6" text-anchor="middle" font-weight="normal" fill="#151515">57</text>
<text transform="translate(389.09 772.7) scale(0.8850 1)" font-size="9.6" text-anchor="middle" font-weight="normal" fill="#151515">71</text>
<text transform="translate(410.39 772.7) scale(0.8850 1)" font-size="9.6" text-anchor="middle" font-weight="normal" fill="#151515">85</text>
<text transform="translate(431.69 772.7) scale(0.8850 1)" font-size="9.6" text-anchor="middle" font-weight="normal" fill="#151515">99</text>
<text transform="translate(453 772.7) scale(0.8850 1)" font-size="9.6" text-anchor="middle" font-weight="normal" fill="#151515">113</text>
<path d="M278.66 632.5H282.56M278.66 664.38H282.56M278.66 696.25H282.56M278.66 728.12H282.56M278.66 760H282.56M282.56 760V763M303.87 760V763M325.17 760V763M346.48 760V763M367.78 760V763M389.09 760V763M410.39 760V763M431.69 760V763M453 760V763" stroke="#4a4a4a" stroke-width="1" fill="none"/>
<text transform="translate(367.6 785.8) scale(0.8850 1)" font-size="9.83" text-anchor="middle" font-weight="normal" fill="#151515">Day</text>
<path d="M367.78 627.5V643.4 M367.78 635.5H428.2" stroke="#333" stroke-width="0.9" fill="none"/>
<path d="M432.2 635.5L427.2 633.5L427.2 637.5Z" fill="#222"/>
<text transform="translate(371.08 633.2) scale(0.8850 1)" font-size="9.72" text-anchor="start" font-weight="normal" fill="#151515">Off treatment</text>
<path d="M303.87 715.14V726.64M302.17 715.14H305.56M302.17 726.64H305.56M325.17 716.87V728.87M323.47 716.87H326.87M323.47 728.87H326.87M346.48 706.63V727.63M344.78 706.63H348.18M344.78 727.63H348.18M367.78 698.63V729.63M366.08 698.63H369.48M366.08 729.63H369.48M389.09 706.87V729.37M387.39 706.87H390.79M387.39 729.37H390.79M410.39 705.38V729.38M408.69 705.38H412.09M408.69 729.38H412.09M431.69 712.12V727.62M430 712.12H433.39M430 727.62H433.39M453 707.38V727.38M451.3 707.38H454.7M451.3 727.38H454.7" stroke="#8a8a8a" stroke-width="0.9" fill="none"/>
<path d="M303.87 733.09V739.09M302.17 733.09H305.56M302.17 739.09H305.56M325.17 733.38V739.38M323.47 733.38H326.87M323.47 739.38H326.87M346.48 734.88V740.88M344.78 734.88H348.18M344.78 740.88H348.18M367.78 735.61V741.61M366.08 735.61H369.48M366.08 741.61H369.48M389.09 736.12V742.12M387.39 736.12H390.79M387.39 742.12H390.79M410.39 737.88V743.88M408.69 737.88H412.09M408.69 743.88H412.09M431.69 736.63V742.63M430 736.63H433.39M430 742.63H433.39M453 736.38V742.38M451.3 736.38H454.7M451.3 742.38H454.7" stroke="#de8b7c" stroke-width="0.9" fill="none"/>
<path d="M303.87 732.62V738.62M302.17 732.62H305.56M302.17 738.62H305.56M325.17 732.87V738.87M323.47 732.87H326.87M323.47 738.87H326.87M346.48 733.09V739.09M344.78 733.09H348.18M344.78 739.09H348.18M367.78 733.64V739.64M366.08 733.64H369.48M366.08 739.64H369.48M389.09 733.89V739.89M387.39 733.89H390.79M387.39 739.89H390.79M410.39 734.11V740.11M408.69 734.11H412.09M408.69 740.11H412.09M431.69 733.89V739.89M430 733.89H433.39M430 739.89H433.39M453 733.64V739.64M451.3 733.64H454.7M451.3 739.64H454.7" stroke="#ecd878" stroke-width="0.9" fill="none"/>
<path d="M303.87 736.87V740.87M302.17 736.87H305.56M302.17 740.87H305.56M325.17 648.38V744.38M323.47 648.38H326.87M323.47 744.38H326.87M346.48 737.88V743.88M344.78 737.88H348.18M344.78 743.88H348.18M367.78 741.38V747.38M366.08 741.38H369.48M366.08 747.38H369.48M389.09 742.11V748.11M387.39 742.11H390.79M387.39 748.11H390.79M410.39 742.11V748.11M408.69 742.11H412.09M408.69 748.11H412.09M431.69 741.13V747.13M430 741.13H433.39M430 747.13H433.39M453 740.62V746.62M451.3 740.62H454.7M451.3 746.62H454.7" stroke="#8faad8" stroke-width="0.9" fill="none"/>
<path d="M303.87 734.62V740.62M302.17 734.62H305.56M302.17 740.62H305.56M325.17 736.11V744.11M323.47 736.11H326.87M323.47 744.11H326.87M346.48 738.12V746.12M344.78 738.12H348.18M344.78 746.12H348.18M367.78 740.13V748.13M366.08 740.13H369.48M366.08 748.13H369.48M389.09 738.79V746.79M387.39 738.79H390.79M387.39 746.79H390.79M410.39 737.86V745.86M408.69 737.86H412.09M408.69 745.86H412.09M431.69 737.38V745.38M430 737.38H433.39M430 745.38H433.39M453 734.87V742.87M451.3 734.87H454.7M451.3 742.87H454.7" stroke="#a9d68b" stroke-width="0.9" fill="none"/>
<polyline points="282.56,728.12 303.87,720.89 325.17,722.87 346.48,717.13 367.78,714.13 389.09,718.12 410.39,717.38 431.69,719.87 453,717.38" stroke="#5a5a5a" stroke-width="1.05" fill="none" stroke-dasharray="2.6 1.8"/>
<path d="M282.56 726.12L284.56 728.12L282.56 730.12L280.56 728.12Z" fill="#5a5a5a"/>
<path d="M303.87 718.89L305.87 720.89L303.87 722.89L301.87 720.89Z" fill="#5a5a5a"/>
<path d="M325.17 720.87L327.17 722.87L325.17 724.87L323.17 722.87Z" fill="#5a5a5a"/>
<path d="M346.48 715.13L348.48 717.13L346.48 719.13L344.48 717.13Z" fill="#5a5a5a"/>
<path d="M367.78 712.13L369.78 714.13L367.78 716.13L365.78 714.13Z" fill="#5a5a5a"/>
<path d="M389.09 716.12L391.09 718.12L389.09 720.12L387.09 718.12Z" fill="#5a5a5a"/>
<path d="M410.39 715.38L412.39 717.38L410.39 719.38L408.39 717.38Z" fill="#5a5a5a"/>
<path d="M431.69 717.87L433.69 719.87L431.69 721.87L429.69 719.87Z" fill="#5a5a5a"/>
<path d="M453 715.38L455 717.38L453 719.38L451 717.38Z" fill="#5a5a5a"/>
<polyline points="282.56,728.12 303.87,736.09 325.17,736.38 346.48,737.88 367.78,738.61 389.09,739.12 410.39,740.88 431.69,739.63 453,739.38" stroke="#cf4e38" stroke-width="1.05" fill="none"/>
<path d="M282.56 730.33L284.76 726.25L280.36 726.25Z" fill="#cf4e38"/>
<path d="M303.87 738.29L306.06 734.22L301.67 734.22Z" fill="#cf4e38"/>
<path d="M325.17 738.58L327.37 734.51L322.97 734.51Z" fill="#cf4e38"/>
<path d="M346.48 740.08L348.68 736.01L344.28 736.01Z" fill="#cf4e38"/>
<path d="M367.78 740.81L369.98 736.74L365.58 736.74Z" fill="#cf4e38"/>
<path d="M389.09 741.32L391.29 737.25L386.89 737.25Z" fill="#cf4e38"/>
<path d="M410.39 743.08L412.59 739L408.19 739Z" fill="#cf4e38"/>
<path d="M431.69 741.83L433.89 737.76L429.5 737.76Z" fill="#cf4e38"/>
<path d="M453 741.58L455.2 737.51L450.8 737.51Z" fill="#cf4e38"/>
<polyline points="282.56,728.12 303.87,735.62 325.17,735.87 346.48,736.09 367.78,736.64 389.09,736.89 410.39,737.11 431.69,736.89 453,736.64" stroke="#e2c83a" stroke-width="1.05" fill="none"/>
<path d="M282.56 725.92L284.76 730L280.36 730Z" fill="#e2c83a"/>
<path d="M303.87 733.42L306.06 737.49L301.67 737.49Z" fill="#e2c83a"/>
<path d="M325.17 733.67L327.37 737.74L322.97 737.74Z" fill="#e2c83a"/>
<path d="M346.48 733.89L348.68 737.96L344.28 737.96Z" fill="#e2c83a"/>
<path d="M367.78 734.44L369.98 738.51L365.58 738.51Z" fill="#e2c83a"/>
<path d="M389.09 734.69L391.29 738.76L386.89 738.76Z" fill="#e2c83a"/>
<path d="M410.39 734.91L412.59 738.98L408.19 738.98Z" fill="#e2c83a"/>
<path d="M431.69 734.69L433.89 738.76L429.5 738.76Z" fill="#e2c83a"/>
<path d="M453 734.44L455.2 738.51L450.8 738.51Z" fill="#e2c83a"/>
<polyline points="282.56,728.12 303.87,738.87 325.17,696.38 346.48,740.88 367.78,744.38 389.09,745.11 410.39,745.11 431.69,744.13 453,743.62" stroke="#5a86c8" stroke-width="1.05" fill="none"/>
<rect x="280.76" y="726.33" width="3.6" height="3.6" fill="#5a86c8"/>
<rect x="302.06" y="737.07" width="3.6" height="3.6" fill="#5a86c8"/>
<rect x="323.37" y="694.58" width="3.6" height="3.6" fill="#5a86c8"/>
<rect x="344.68" y="739.08" width="3.6" height="3.6" fill="#5a86c8"/>
<rect x="365.98" y="742.58" width="3.6" height="3.6" fill="#5a86c8"/>
<rect x="387.29" y="743.31" width="3.6" height="3.6" fill="#5a86c8"/>
<rect x="408.59" y="743.31" width="3.6" height="3.6" fill="#5a86c8"/>
<rect x="429.89" y="742.33" width="3.6" height="3.6" fill="#5a86c8"/>
<rect x="451.2" y="741.82" width="3.6" height="3.6" fill="#5a86c8"/>
<polyline points="282.56,728.12 303.87,737.62 325.17,740.11 346.48,742.12 367.78,744.13 389.09,742.79 410.39,741.86 431.69,741.38 453,738.87" stroke="#8cc865" stroke-width="1.05" fill="none"/>
<circle cx="282.56" cy="728.12" r="1.9" fill="#8cc865"/>
<circle cx="303.87" cy="737.62" r="1.9" fill="#8cc865"/>
<circle cx="325.17" cy="740.11" r="1.9" fill="#8cc865"/>
<circle cx="346.48" cy="742.12" r="1.9" fill="#8cc865"/>
<circle cx="367.78" cy="744.13" r="1.9" fill="#8cc865"/>
<circle cx="389.09" cy="742.79" r="1.9" fill="#8cc865"/>
<circle cx="410.39" cy="741.86" r="1.9" fill="#8cc865"/>
<circle cx="431.69" cy="741.38" r="1.9" fill="#8cc865"/>
<circle cx="453" cy="738.87" r="1.9" fill="#8cc865"/>
<path d="M496 636.8H518" stroke="#8cc865" stroke-width="1.6" fill="none"/>
<circle cx="507" cy="636.8" r="4.27" fill="#8cc865"/>
<text x="530.4" y="641.2" font-size="12.9" text-anchor="start" font-weight="normal" fill="#222">2 mg/kg (N=8)</text>
<path d="M496 657.3H518" stroke="#5a86c8" stroke-width="1.6" fill="none"/>
<rect x="502.95" y="653.25" width="8.1" height="8.1" fill="#5a86c8"/>
<text x="530.4" y="661.7" font-size="12.9" text-anchor="start" font-weight="normal" fill="#222">4 mg/kg (N=8)</text>
<path d="M496 677.8H518" stroke="#e2c83a" stroke-width="1.6" fill="none"/>
<path d="M507 672.85L511.95 682.01L502.05 682.01Z" fill="#e2c83a"/>
<text x="530.4" y="682.2" font-size="12.9" text-anchor="start" font-weight="normal" fill="#222">8 mg/kg (N=8)</text>
<path d="M496 698.8H518" stroke="#cf4e38" stroke-width="1.6" fill="none"/>
<path d="M507 703.75L511.95 694.59L502.05 694.59Z" fill="#cf4e38"/>
<text x="530.4" y="703.2" font-size="12.9" text-anchor="start" font-weight="normal" fill="#222">16 mg/kg (N=8)</text>
<path d="M496 717.4H500.6 M516.4 717.4H518" stroke="#5a5a5a" stroke-width="1.6" fill="none"/>
<path d="M507 712.9L511.5 717.4L507 721.9L502.5 717.4Z" fill="#5a5a5a"/>
<text x="530.4" y="721.8" font-size="12.9" text-anchor="start" font-weight="normal" fill="#222">Placebo (N=8)</text>
</svg>
</body></html>
